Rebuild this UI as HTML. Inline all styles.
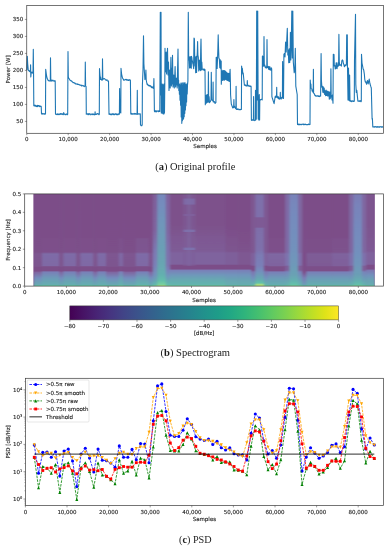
<!DOCTYPE html>
<html><head><meta charset="utf-8"><title>Figure</title>
<style>
html,body{margin:0;padding:0;background:#fff;}
body{width:388px;height:550px;overflow:hidden;}
svg{display:block;font-family:"DejaVu Sans","Liberation Sans",sans-serif;fill:#222;}
svg text{stroke:#222;stroke-width:0.12px;}
</style></head><body>
<svg width="388" height="550" viewBox="0 0 388 550">
<rect width="388" height="550" fill="#fff"/>
<path d="M26.90,70.00 L27.30,56.30 L27.70,64.00 L28.30,70.50 L28.65,70.51 L29.00,70.53 L29.35,71.45 L29.70,70.92 L30.05,71.80 L30.40,72.00 L30.60,64.70 L30.80,77.00 L31.20,72.50 L31.50,72.44 L31.80,72.14 L32.10,72.86 L32.40,72.34 L32.70,72.99 L33.00,73.20 L33.30,49.30 L33.55,73.00 L33.80,105.70 L34.11,105.08 L34.42,105.14 L34.72,105.66 L35.03,106.29 L35.34,105.26 L35.65,105.43 L35.96,106.07 L36.27,106.57 L36.58,106.04 L36.88,105.80 L37.19,106.69 L37.50,105.32 L37.81,106.56 L38.12,105.73 L38.42,105.54 L38.73,105.53 L39.04,105.84 L39.35,106.62 L39.66,105.70 L39.97,106.32 L40.28,106.43 L40.58,106.06 L40.89,106.35 L41.20,106.30 L41.50,113.90 L41.81,113.38 L42.12,113.37 L42.42,113.55 L42.73,114.12 L43.04,113.81 L43.35,113.68 L43.65,114.00 L43.96,113.84 L44.27,113.66 L44.58,114.25 L44.88,114.14 L45.19,113.59 L45.50,113.90 L45.70,69.30 L46.30,74.00 L47.00,78.00 L48.20,80.50 L48.55,80.63 L48.90,80.66 L49.25,81.04 L49.60,80.97 L49.95,80.64 L50.30,80.90 L50.50,57.80 L50.80,80.50 L51.11,81.10 L51.43,80.10 L51.74,80.49 L52.06,80.92 L52.37,80.23 L52.69,80.66 L53.00,80.15 L53.31,80.93 L53.63,81.07 L53.94,80.87 L54.26,81.26 L54.57,80.62 L54.89,81.11 L55.20,80.90 L55.50,114.20 L55.81,114.31 L56.12,114.30 L56.42,114.15 L56.73,114.61 L57.04,114.73 L57.35,114.17 L57.65,114.40 L57.96,113.67 L58.27,114.44 L58.58,114.38 L58.88,114.79 L59.19,114.59 L59.50,113.94 L59.81,114.06 L60.12,114.40 L60.42,113.63 L60.73,114.15 L61.04,113.80 L61.35,113.74 L61.65,113.67 L61.96,114.52 L62.27,113.76 L62.58,113.90 L62.88,114.07 L63.19,114.65 L63.50,114.20 L63.70,112.50 L63.90,114.20 L64.22,113.70 L64.53,114.14 L64.85,114.26 L65.17,114.66 L65.48,114.58 L65.80,114.64 L66.12,113.93 L66.43,114.10 L66.75,114.03 L67.07,114.66 L67.38,114.75 L67.70,114.20 L68.00,51.60 L68.30,76.50 L68.70,78.30 L69.03,78.46 L69.35,78.96 L69.67,79.48 L70.00,80.20 L70.31,80.19 L70.62,80.64 L70.94,80.96 L71.25,80.89 L71.56,80.88 L71.88,81.48 L72.19,81.66 L72.50,82.00 L72.82,82.22 L73.14,82.74 L73.45,82.66 L73.77,82.67 L74.09,82.92 L74.41,83.14 L74.73,82.74 L75.05,83.67 L75.36,83.72 L75.68,83.97 L76.00,83.80 L76.31,84.18 L76.62,83.93 L76.92,84.06 L77.23,83.90 L77.54,84.50 L77.85,84.10 L78.15,84.22 L78.46,84.46 L78.77,84.53 L79.08,84.81 L79.38,84.67 L79.69,84.73 L80.00,85.30 L80.32,85.05 L80.64,85.07 L80.96,85.36 L81.28,85.12 L81.59,85.95 L81.91,85.78 L82.23,85.42 L82.55,85.58 L82.87,85.73 L83.19,85.80 L83.51,85.65 L83.82,86.36 L84.14,86.56 L84.46,86.14 L84.78,86.22 L85.10,86.30 L85.30,62.00 L85.60,86.30 L86.10,86.50 L86.30,114.20 L86.61,113.71 L86.91,113.73 L87.22,114.02 L87.53,113.93 L87.84,114.61 L88.14,113.82 L88.45,113.65 L88.76,114.77 L89.06,114.27 L89.37,113.81 L89.68,114.29 L89.99,113.68 L90.29,114.28 L90.60,114.82 L90.91,114.69 L91.21,114.49 L91.52,113.97 L91.83,114.10 L92.14,113.87 L92.44,114.60 L92.75,114.31 L93.06,114.61 L93.36,114.08 L93.67,113.95 L93.98,114.66 L94.29,114.87 L94.59,114.72 L94.90,114.30 L95.10,111.80 L95.30,114.20 L95.61,114.57 L95.92,114.58 L96.22,114.49 L96.53,113.87 L96.84,114.22 L97.15,114.03 L97.45,113.63 L97.76,113.63 L98.07,113.94 L98.38,113.91 L98.68,114.43 L98.99,114.75 L99.30,114.20 L99.50,68.60 L100.30,79.50 L100.60,77.00 L101.00,79.40 L101.33,79.50 L101.65,80.09 L101.97,80.29 L102.30,80.00 L102.50,58.90 L102.80,79.00 L103.10,79.36 L103.40,78.78 L103.70,78.60 L104.00,78.80 L104.30,78.61 L104.60,78.72 L104.90,78.87 L105.20,79.51 L105.50,79.98 L105.80,80.05 L106.10,79.76 L106.40,80.10 L106.70,80.42 L107.00,79.70 L107.30,80.53 L107.60,80.97 L107.90,80.96 L108.20,81.06 L108.50,80.90 L109.00,114.20 L109.31,114.17 L109.61,113.81 L109.92,114.55 L110.22,114.00 L110.53,114.56 L110.84,114.77 L111.14,114.08 L111.45,114.08 L111.75,114.74 L112.06,114.47 L112.36,113.80 L112.67,113.75 L112.98,113.78 L113.28,114.69 L113.59,114.57 L113.89,113.78 L114.20,114.59 L114.51,114.78 L114.81,114.39 L115.12,114.02 L115.42,114.26 L115.73,113.76 L116.04,113.62 L116.34,114.77 L116.65,114.38 L116.95,114.23 L117.26,114.72 L117.56,114.12 L117.87,114.65 L118.18,114.59 L118.48,113.85 L118.79,113.90 L119.09,113.95 L119.40,114.20 L119.60,88.60 L119.90,112.00 L120.80,113.00 L121.00,68.20 L121.60,74.00 L122.50,78.00 L124.00,80.40 L125.00,79.60 L125.30,79.36 L125.60,79.76 L125.90,79.45 L126.20,79.65 L126.50,79.38 L126.80,80.23 L127.10,79.68 L127.40,79.82 L127.70,79.99 L128.00,80.36 L128.30,79.88 L128.60,80.44 L128.90,80.04 L129.20,80.10 L129.50,80.12 L129.80,79.63 L130.10,80.10 L130.40,80.20 L130.80,113.90 L131.12,113.52 L131.43,113.30 L131.75,114.26 L132.06,113.51 L132.38,113.87 L132.69,114.17 L133.00,113.97 L133.32,113.69 L133.63,113.92 L133.95,113.97 L134.27,114.24 L134.58,113.43 L134.90,113.97 L135.21,113.60 L135.53,113.63 L135.84,114.23 L136.16,113.91 L136.47,113.97 L136.78,114.21 L137.10,113.90 L137.30,90.20 L137.50,113.90 L137.81,114.39 L138.12,113.83 L138.43,114.04 L138.74,113.91 L139.06,113.91 L139.37,114.13 L139.68,113.84 L139.99,113.94 L140.30,113.90 L140.50,125.00 L140.84,124.97 L141.18,125.66 L141.52,125.30 L141.86,125.56 L142.20,125.00 L142.40,85.00 L143.00,70.00 L143.50,35.70 L143.90,64.00 L144.30,70.00 L144.90,79.40 L145.60,78.00 L145.90,70.10 L146.20,80.00 L147.00,84.00 L147.33,84.80 L147.66,84.25 L147.99,84.89 L148.31,85.62 L148.64,85.77 L148.97,85.19 L149.30,85.90 L149.61,85.48 L149.91,86.10 L150.22,85.69 L150.53,86.08 L150.84,85.97 L151.14,87.01 L151.45,87.33 L151.76,87.64 L152.06,86.67 L152.37,87.65 L152.68,87.71 L152.99,87.08 L153.29,88.33 L153.60,87.90 L153.90,78.60 L154.10,88.00 L154.40,111.00 L154.70,111.73 L155.00,110.63 L155.30,111.76 L155.60,110.96 L155.90,111.12 L156.20,111.90 L156.50,111.69 L156.80,110.71 L157.10,111.15 L157.40,111.30 L157.70,111.06 L158.00,110.88 L158.30,111.09 L158.60,111.72 L158.90,110.70 L159.20,111.53 L159.50,111.38 L159.80,111.50 L160.30,12.20 L160.65,95.00 L161.00,12.20 L161.30,113.00 L161.62,83.84 L161.94,113.10 L162.25,85.30 L162.57,113.31 L162.89,83.95 L163.21,113.88 L163.53,85.69 L163.85,113.87 L164.16,84.05 L164.48,113.02 L164.80,83.90 L165.00,48.30 L165.40,72.00 L166.20,52.00 L166.60,74.00 L167.50,48.30 L168.00,75.00 L168.50,62.00 L169.00,90.40 L169.60,70.00 L170.20,88.00 L170.90,57.40 L171.40,86.00 L171.90,68.00 L172.20,84.00 L172.50,55.30 L173.00,87.00 L173.70,75.00 L174.30,88.00 L175.10,66.60 L175.60,87.00 L176.50,78.00 L177.20,88.00 L178.00,49.00 L178.40,86.00 L178.60,80.00 L178.80,90.39 L179.10,83.72 L179.40,94.28 L179.70,84.40 L180.00,100.31 L180.30,86.19 L180.60,105.17 L180.90,83.17 L181.20,116.88 L181.50,85.07 L181.80,123.35 L182.10,82.90 L182.40,120.69 L182.70,85.60 L183.00,119.54 L183.30,82.83 L183.60,118.61 L183.90,85.35 L184.20,116.70 L184.50,82.88 L184.80,113.38 L185.10,82.80 L185.40,109.98 L185.70,84.54 L186.00,105.78 L186.30,84.99 L186.60,102.06 L186.90,83.71 L187.20,93.86 L187.50,84.87 L187.90,81.00 L188.30,12.20 L188.70,60.00 L189.13,56.95 L189.57,67.92 L190.00,56.65 L190.43,67.80 L190.87,56.81 L191.30,68.32 L191.50,56.30 L191.81,57.49 L192.13,60.62 L192.44,60.98 L192.76,63.39 L193.07,64.19 L193.39,66.47 L193.70,68.70 L193.70,60.00 L194.00,38.00 L194.20,66.00 L194.40,38.50 L194.80,62.00 L195.24,57.19 L195.68,72.65 L196.12,56.38 L196.56,72.50 L197.00,58.26 L197.30,52.00 L197.60,41.60 L197.90,55.00 L198.32,57.28 L198.73,70.86 L199.15,60.67 L199.57,69.69 L199.98,59.76 L200.40,70.60 L200.70,50.00 L201.00,39.00 L201.30,58.00 L201.50,70.00 L201.80,62.00 L202.20,69.00 L202.52,69.05 L202.85,69.83 L203.18,68.96 L203.50,69.26 L203.82,69.71 L204.15,70.39 L204.48,69.11 L204.80,69.50 L205.00,69.50 L205.30,104.80 L205.62,95.66 L205.94,103.33 L206.27,95.41 L206.59,102.85 L206.91,94.88 L207.23,102.29 L207.56,94.56 L207.88,102.31 L208.20,96.72 L208.40,71.80 L208.70,102.00 L209.10,96.51 L209.50,102.60 L209.80,101.41 L210.10,101.99 L210.40,101.47 L210.70,100.61 L211.00,99.80 L211.30,72.30 L211.60,100.00 L211.93,99.92 L212.25,100.11 L212.57,100.44 L212.90,101.00 L213.10,82.00 L213.30,102.00 L213.62,101.98 L213.95,101.41 L214.28,102.07 L214.60,101.75 L214.93,103.28 L215.25,103.37 L215.58,102.54 L215.90,102.50 L216.20,57.40 L216.67,57.33 L217.13,68.43 L217.60,56.93 L217.90,48.00 L218.20,34.90 L218.50,47.00 L218.90,58.00 L219.36,58.97 L219.82,67.70 L220.28,59.84 L220.74,68.65 L221.20,61.01 L221.30,84.20 L221.81,70.95 L222.31,80.51 L222.82,70.31 L223.32,79.93 L223.83,70.67 L224.34,80.26 L224.84,70.56 L225.35,79.35 L225.85,71.56 L226.36,79.86 L226.86,72.63 L227.37,80.57 L227.88,73.28 L228.38,80.88 L228.89,73.22 L229.39,81.41 L229.90,72.10 L230.10,69.20 L230.40,82.00 L230.60,95.00 L231.30,104.00 L232.70,107.90 L233.03,106.85 L233.37,107.80 L233.70,106.00 L233.90,99.60 L234.10,106.50 L234.40,106.20 L234.70,107.57 L235.00,107.76 L235.30,107.01 L235.60,108.77 L235.90,108.50 L236.10,86.20 L236.30,109.00 L236.62,109.50 L236.94,109.20 L237.26,109.36 L237.58,109.47 L237.89,108.69 L238.21,109.18 L238.53,109.18 L238.85,109.60 L239.17,109.59 L239.49,109.64 L239.81,109.38 L240.12,109.77 L240.44,109.54 L240.76,109.58 L241.08,109.05 L241.40,109.40 L241.60,66.10 L242.10,70.00 L242.40,68.50 L242.80,73.90 L243.20,73.00 L244.40,85.20 L244.74,84.74 L245.07,84.96 L245.41,85.33 L245.75,85.13 L246.09,86.10 L246.43,85.87 L246.76,86.05 L247.10,86.00 L247.30,80.60 L247.60,85.50 L247.92,85.74 L248.24,85.90 L248.55,85.76 L248.87,85.27 L249.19,86.31 L249.51,86.34 L249.83,86.14 L250.15,86.27 L250.46,86.51 L250.78,85.89 L251.10,86.50 L251.40,120.20 L251.73,120.41 L252.07,119.98 L252.40,119.82 L252.73,119.99 L253.07,120.41 L253.40,120.20 L253.60,96.50 L253.80,120.20 L254.10,119.93 L254.40,120.42 L254.70,120.63 L255.00,120.19 L255.30,120.20 L255.50,90.30 L255.70,120.00 L256.30,119.00 L256.70,11.00 L257.20,100.00 L257.70,11.00 L258.20,119.00 L258.50,98.20 L258.80,119.98 L259.10,96.73 L259.30,94.50 L259.60,120.00 L259.80,99.60 L260.14,99.95 L260.49,99.80 L260.83,99.86 L261.17,99.21 L261.51,99.32 L261.86,99.48 L262.20,99.80 L262.40,56.00 L262.75,56.23 L263.10,66.11 L263.45,56.70 L263.80,66.02 L264.00,36.50 L264.30,66.00 L264.61,64.67 L264.93,65.67 L265.24,67.37 L265.55,67.69 L265.86,67.88 L266.18,66.75 L266.49,67.81 L266.80,68.00 L267.00,39.60 L267.30,67.50 L267.61,67.47 L267.93,67.56 L268.24,66.41 L268.56,69.29 L268.87,66.88 L269.19,69.78 L269.50,69.72 L269.81,66.51 L270.13,68.19 L270.44,69.58 L270.76,70.21 L271.07,68.43 L271.39,67.87 L271.70,68.80 L271.90,96.50 L272.30,98.00 L274.10,103.70 L275.20,96.50 L275.52,96.10 L275.85,97.55 L276.18,96.35 L276.50,97.00 L276.70,87.20 L276.90,97.00 L277.22,97.35 L277.54,96.44 L277.86,97.51 L278.18,98.69 L278.50,96.87 L278.82,98.67 L279.14,98.07 L279.46,99.13 L279.78,98.84 L280.10,98.50 L280.30,92.40 L280.50,98.50 L280.82,97.85 L281.13,99.17 L281.45,98.22 L281.77,97.17 L282.08,97.04 L282.40,98.00 L282.60,61.50 L282.90,98.00 L283.50,98.50 L283.90,54.30 L284.40,53.50 L285.00,57.00 L285.60,42.00 L286.20,52.00 L287.30,28.20 L287.80,55.00 L288.28,49.95 L288.76,62.65 L289.24,48.81 L289.72,62.52 L290.20,49.06 L290.40,32.40 L290.80,60.00 L291.30,45.00 L291.80,11.00 L292.30,58.00 L292.80,11.00 L293.30,62.00 L294.20,72.80 L294.80,70.00 L295.30,48.30 L295.80,86.20 L297.20,94.50 L297.50,124.40 L297.80,124.26 L298.11,124.66 L298.41,124.03 L298.72,124.59 L299.02,124.65 L299.33,124.12 L299.63,124.72 L299.94,124.56 L300.24,124.70 L300.55,124.24 L300.85,124.30 L301.16,124.32 L301.46,124.77 L301.77,124.47 L302.07,124.30 L302.38,124.35 L302.68,124.23 L302.99,124.06 L303.29,124.10 L303.60,124.65 L303.90,124.24 L304.21,124.73 L304.51,124.21 L304.82,124.22 L305.12,124.41 L305.43,124.17 L305.73,124.31 L306.04,124.74 L306.34,124.69 L306.65,124.63 L306.95,124.50 L307.26,124.71 L307.56,124.73 L307.87,124.44 L308.17,124.56 L308.48,124.06 L308.78,124.57 L309.09,124.36 L309.39,124.59 L309.70,124.51 L310.00,124.40 L310.20,80.00 L310.60,86.00 L310.90,84.00 L311.10,88.30 L311.45,88.60 L311.80,88.85 L312.15,91.12 L312.50,90.36 L312.85,91.67 L313.20,92.40 L313.40,69.20 L313.60,93.00 L313.95,93.31 L314.30,93.76 L314.65,94.79 L315.00,95.57 L315.35,95.21 L315.70,96.00 L316.01,96.15 L316.31,95.85 L316.62,96.09 L316.93,95.95 L317.23,95.76 L317.54,95.77 L317.84,95.82 L318.15,96.47 L318.46,96.11 L318.76,95.87 L319.07,96.50 L319.38,96.60 L319.68,96.12 L319.99,95.85 L320.29,95.91 L320.60,96.20 L321.10,53.50 L321.40,80.00 L321.90,87.30 L322.36,86.14 L322.83,92.26 L323.29,86.88 L323.75,92.69 L324.22,88.12 L324.68,94.42 L325.14,90.74 L325.61,95.70 L326.07,90.05 L326.53,95.43 L326.99,91.13 L327.46,96.05 L327.92,91.30 L328.38,95.84 L328.85,91.86 L329.31,99.30 L329.77,92.14 L330.24,98.64 L330.70,94.39 L330.90,68.70 L331.20,97.00 L331.60,95.23 L332.00,99.93 L332.40,95.04 L332.80,100.50 L333.00,103.20 L333.30,54.30 L334.00,54.50 L334.30,66.00 L334.61,65.34 L334.91,65.64 L335.22,69.00 L335.53,68.30 L335.84,68.46 L336.14,62.84 L336.45,62.91 L336.76,67.38 L337.06,68.61 L337.37,65.82 L337.68,66.58 L337.99,62.70 L338.29,65.28 L338.60,66.00 L338.90,34.40 L339.30,62.00 L339.81,65.34 L340.31,64.73 L340.82,65.09 L341.33,66.11 L341.84,60.83 L342.34,59.92 L342.85,60.41 L343.36,63.31 L343.86,64.65 L344.37,66.74 L344.88,65.23 L345.39,64.82 L345.89,65.84 L346.40,64.00 L346.70,34.90 L347.00,60.00 L347.30,34.90 L347.50,67.20 L348.00,100.00 L348.50,68.00 L349.10,100.50 L349.60,75.00 L350.00,101.20 L350.31,101.15 L350.61,101.26 L350.92,100.65 L351.23,101.54 L351.54,100.88 L351.84,101.70 L352.15,101.37 L352.46,100.96 L352.76,100.75 L353.07,100.90 L353.38,101.36 L353.69,101.44 L353.99,100.73 L354.30,101.20 L354.50,60.00 L355.50,14.30 L355.80,84.20 L356.30,92.40 L356.80,90.40 L357.90,101.20 L358.21,100.68 L358.52,101.23 L358.83,101.30 L359.14,101.07 L359.45,100.87 L359.75,101.32 L360.06,100.61 L360.37,100.96 L360.68,101.15 L360.99,101.75 L361.30,101.20 L361.50,54.30 L362.00,63.00 L362.50,65.60 L362.80,67.19 L363.10,69.00 L363.40,69.26 L363.70,69.92 L364.00,71.80 L364.37,74.26 L364.73,79.04 L365.10,81.00 L365.40,82.13 L365.70,81.82 L366.00,81.77 L366.30,83.56 L366.60,84.20 L367.50,80.50 L368.20,84.00 L369.20,79.00 L369.90,83.50 L370.70,86.20 L371.30,88.00 L372.10,119.00 L372.40,118.50 L372.80,126.90 L373.10,127.03 L373.41,126.84 L373.71,126.72 L374.01,127.03 L374.31,127.22 L374.62,126.70 L374.92,126.55 L375.22,126.78 L375.53,126.84 L375.83,127.04 L376.13,126.67 L376.44,127.12 L376.74,127.08 L377.04,126.90 L377.34,126.68 L377.65,127.25 L377.95,126.76 L378.25,127.14 L378.56,126.70 L378.86,126.69 L379.16,127.10 L379.46,126.75 L379.77,127.24 L380.07,126.90 L380.37,126.67 L380.68,126.69 L380.98,126.84 L381.28,127.02 L381.59,127.24 L381.89,126.63 L382.19,126.82 L382.49,126.68 L382.80,127.26 L383.10,126.90" fill="none" stroke="#1f77b4" stroke-width="1.1" stroke-linejoin="round" stroke-linecap="butt"/>
<rect x="26.75" y="5.4" width="356.65" height="127.90" fill="none" stroke="#3a3a3a" stroke-width="0.7"/>
<line x1="24.85" y1="121.40" x2="26.75" y2="121.40" stroke="#3a3a3a" stroke-width="0.5"/>
<text x="23.35" y="123.25" font-size="5.5" text-anchor="end" >50</text>
<line x1="24.85" y1="104.40" x2="26.75" y2="104.40" stroke="#3a3a3a" stroke-width="0.5"/>
<text x="23.35" y="106.25" font-size="5.5" text-anchor="end" >100</text>
<line x1="24.85" y1="87.40" x2="26.75" y2="87.40" stroke="#3a3a3a" stroke-width="0.5"/>
<text x="23.35" y="89.25" font-size="5.5" text-anchor="end" >150</text>
<line x1="24.85" y1="70.40" x2="26.75" y2="70.40" stroke="#3a3a3a" stroke-width="0.5"/>
<text x="23.35" y="72.25" font-size="5.5" text-anchor="end" >200</text>
<line x1="24.85" y1="53.40" x2="26.75" y2="53.40" stroke="#3a3a3a" stroke-width="0.5"/>
<text x="23.35" y="55.25" font-size="5.5" text-anchor="end" >250</text>
<line x1="24.85" y1="36.40" x2="26.75" y2="36.40" stroke="#3a3a3a" stroke-width="0.5"/>
<text x="23.35" y="38.25" font-size="5.5" text-anchor="end" >300</text>
<line x1="24.85" y1="19.40" x2="26.75" y2="19.40" stroke="#3a3a3a" stroke-width="0.5"/>
<text x="23.35" y="21.25" font-size="5.5" text-anchor="end" >350</text>
<line x1="26.75" y1="133.3" x2="26.75" y2="135.20000000000002" stroke="#3a3a3a" stroke-width="0.5"/>
<text x="26.75" y="141.30" font-size="5.5" text-anchor="middle" >0</text>
<line x1="68.19" y1="133.3" x2="68.19" y2="135.20000000000002" stroke="#3a3a3a" stroke-width="0.5"/>
<text x="68.19" y="141.30" font-size="5.5" text-anchor="middle" >10,000</text>
<line x1="109.63" y1="133.3" x2="109.63" y2="135.20000000000002" stroke="#3a3a3a" stroke-width="0.5"/>
<text x="109.63" y="141.30" font-size="5.5" text-anchor="middle" >20,000</text>
<line x1="151.07" y1="133.3" x2="151.07" y2="135.20000000000002" stroke="#3a3a3a" stroke-width="0.5"/>
<text x="151.07" y="141.30" font-size="5.5" text-anchor="middle" >30,000</text>
<line x1="192.51" y1="133.3" x2="192.51" y2="135.20000000000002" stroke="#3a3a3a" stroke-width="0.5"/>
<text x="192.51" y="141.30" font-size="5.5" text-anchor="middle" >40,000</text>
<line x1="233.95" y1="133.3" x2="233.95" y2="135.20000000000002" stroke="#3a3a3a" stroke-width="0.5"/>
<text x="233.95" y="141.30" font-size="5.5" text-anchor="middle" >50,000</text>
<line x1="275.39" y1="133.3" x2="275.39" y2="135.20000000000002" stroke="#3a3a3a" stroke-width="0.5"/>
<text x="275.39" y="141.30" font-size="5.5" text-anchor="middle" >60,000</text>
<line x1="316.83" y1="133.3" x2="316.83" y2="135.20000000000002" stroke="#3a3a3a" stroke-width="0.5"/>
<text x="316.83" y="141.30" font-size="5.5" text-anchor="middle" >70,000</text>
<line x1="358.27" y1="133.3" x2="358.27" y2="135.20000000000002" stroke="#3a3a3a" stroke-width="0.5"/>
<text x="358.27" y="141.30" font-size="5.5" text-anchor="middle" >80,000</text>
<text x="205.07" y="148.00" font-size="5.5" text-anchor="middle" >Samples</text>
<text transform="translate(9.5,69.4) rotate(-90)" font-size="5.5" text-anchor="middle">Power [W]</text>
<defs><linearGradient id="g0" x1="0" y1="0" x2="0" y2="1"><stop offset="0.0000" stop-color="#7c4d88"/><stop offset="0.6302" stop-color="#7c4f89"/><stop offset="0.6518" stop-color="#7e5691"/><stop offset="0.7820" stop-color="#7d558f"/><stop offset="0.7983" stop-color="#7c4d88"/><stop offset="0.8341" stop-color="#7c4d88"/><stop offset="0.8525" stop-color="#7f67a2"/><stop offset="0.9121" stop-color="#748dbd"/><stop offset="0.9826" stop-color="#67a8b2"/><stop offset="0.9913" stop-color="#64c2a9"/><stop offset="1.0000" stop-color="#64c2a9"/></linearGradient><linearGradient id="g1" x1="0" y1="0" x2="0" y2="1"><stop offset="0.0000" stop-color="#7c4d88"/><stop offset="0.4675" stop-color="#7c4d88"/><stop offset="0.4892" stop-color="#7d508a"/><stop offset="0.6302" stop-color="#7d508b"/><stop offset="0.6518" stop-color="#7e6ca7"/><stop offset="0.7766" stop-color="#7f69a5"/><stop offset="0.7907" stop-color="#7c4f89"/><stop offset="0.8319" stop-color="#7c4f89"/><stop offset="0.8471" stop-color="#7a80b8"/><stop offset="0.9121" stop-color="#6d9bb8"/><stop offset="0.9826" stop-color="#65adb0"/><stop offset="0.9913" stop-color="#68c5a7"/><stop offset="1.0000" stop-color="#68c5a7"/></linearGradient><linearGradient id="g2" x1="0" y1="0" x2="0" y2="1"><stop offset="0.0000" stop-color="#7c4d88"/><stop offset="0.4675" stop-color="#7c4d88"/><stop offset="0.4892" stop-color="#7d518c"/><stop offset="0.6302" stop-color="#7d528d"/><stop offset="0.6518" stop-color="#7f69a5"/><stop offset="0.7766" stop-color="#7f67a2"/><stop offset="0.7907" stop-color="#7c4f89"/><stop offset="0.8319" stop-color="#7c4f89"/><stop offset="0.8471" stop-color="#7a80b8"/><stop offset="0.9121" stop-color="#6c9db6"/><stop offset="0.9826" stop-color="#64b2af"/><stop offset="0.9913" stop-color="#70cca2"/><stop offset="1.0000" stop-color="#70cca2"/></linearGradient><linearGradient id="g3" x1="0" y1="0" x2="0" y2="1"><stop offset="0.0000" stop-color="#7c4d88"/><stop offset="0.4675" stop-color="#7c4d88"/><stop offset="0.4892" stop-color="#7d548f"/><stop offset="0.6302" stop-color="#7e5691"/><stop offset="0.6518" stop-color="#7e6ca7"/><stop offset="0.7766" stop-color="#7f69a5"/><stop offset="0.7907" stop-color="#7c4f89"/><stop offset="0.8319" stop-color="#7c4f89"/><stop offset="0.8471" stop-color="#7a80b8"/><stop offset="0.9121" stop-color="#6c9db6"/><stop offset="0.9826" stop-color="#64b2af"/><stop offset="0.9913" stop-color="#70cca2"/><stop offset="1.0000" stop-color="#70cca2"/></linearGradient><linearGradient id="g4" x1="0" y1="0" x2="0" y2="1"><stop offset="0.0000" stop-color="#7e5f9a"/><stop offset="0.3915" stop-color="#7f649f"/><stop offset="0.6085" stop-color="#7c78b2"/><stop offset="0.7711" stop-color="#7a80b8"/><stop offset="0.8796" stop-color="#7292bc"/><stop offset="0.9447" stop-color="#69a5b3"/><stop offset="0.9837" stop-color="#62baac"/><stop offset="0.9913" stop-color="#76cf9e"/><stop offset="1.0000" stop-color="#76cf9e"/></linearGradient><linearGradient id="g5" x1="0" y1="0" x2="0" y2="1"><stop offset="0.0000" stop-color="#7788bc"/><stop offset="0.1204" stop-color="#748dbd"/><stop offset="0.3373" stop-color="#6f97ba"/><stop offset="0.6085" stop-color="#6ba0b5"/><stop offset="0.7711" stop-color="#68a6b2"/><stop offset="0.8796" stop-color="#64b0af"/><stop offset="0.9447" stop-color="#64c0aa"/><stop offset="0.9837" stop-color="#79d19d"/><stop offset="0.9913" stop-color="#a2df85"/><stop offset="1.0000" stop-color="#a2df85"/></linearGradient><linearGradient id="g6" x1="0" y1="0" x2="0" y2="1"><stop offset="0.0000" stop-color="#7f649f"/><stop offset="0.3915" stop-color="#7f67a2"/><stop offset="0.6085" stop-color="#7e71ac"/><stop offset="0.7711" stop-color="#7e73ae"/><stop offset="0.8254" stop-color="#7a80b8"/><stop offset="0.8905" stop-color="#7096bb"/><stop offset="0.9447" stop-color="#66a9b1"/><stop offset="0.9837" stop-color="#62baac"/><stop offset="0.9913" stop-color="#76cf9e"/><stop offset="1.0000" stop-color="#76cf9e"/></linearGradient><linearGradient id="g7" x1="0" y1="0" x2="0" y2="1"><stop offset="0.0000" stop-color="#7d518b"/><stop offset="0.3373" stop-color="#7d518b"/><stop offset="0.4892" stop-color="#7e5993"/><stop offset="0.6193" stop-color="#7e5b96"/><stop offset="0.6410" stop-color="#7f639e"/><stop offset="0.7625" stop-color="#7f639e"/><stop offset="0.7733" stop-color="#7c4d88"/><stop offset="0.8145" stop-color="#7c4d88"/><stop offset="0.8275" stop-color="#7a80b8"/><stop offset="0.8796" stop-color="#6f98ba"/><stop offset="0.9338" stop-color="#66aab1"/><stop offset="0.9826" stop-color="#63b5ae"/><stop offset="0.9913" stop-color="#6dcba3"/><stop offset="1.0000" stop-color="#6dcba3"/></linearGradient><linearGradient id="g8" x1="0" y1="0" x2="0" y2="1"><stop offset="0.0000" stop-color="#7c4d88"/><stop offset="0.3373" stop-color="#7c4d88"/><stop offset="0.4892" stop-color="#7d528d"/><stop offset="0.6193" stop-color="#7d558f"/><stop offset="0.6410" stop-color="#7e5f9a"/><stop offset="0.7625" stop-color="#7e5f9a"/><stop offset="0.7733" stop-color="#7c4d88"/><stop offset="0.8145" stop-color="#7c4d88"/><stop offset="0.8275" stop-color="#7a80b8"/><stop offset="0.8796" stop-color="#7095bb"/><stop offset="0.9338" stop-color="#69a4b3"/><stop offset="0.9826" stop-color="#65adb0"/><stop offset="0.9913" stop-color="#68c5a7"/><stop offset="1.0000" stop-color="#68c5a7"/></linearGradient><linearGradient id="g9" x1="0" y1="0" x2="0" y2="1"><stop offset="0.0000" stop-color="#7c4d88"/><stop offset="0.3373" stop-color="#7c4d88"/><stop offset="0.4892" stop-color="#7d508a"/><stop offset="0.6193" stop-color="#7d528d"/><stop offset="0.6410" stop-color="#7e5892"/><stop offset="0.7625" stop-color="#7e5892"/><stop offset="0.7733" stop-color="#7c4d88"/><stop offset="0.8145" stop-color="#7c4d88"/><stop offset="0.8275" stop-color="#7a80b8"/><stop offset="0.8796" stop-color="#7095bb"/><stop offset="0.9338" stop-color="#69a4b3"/><stop offset="0.9826" stop-color="#65adb0"/><stop offset="0.9913" stop-color="#68c5a7"/><stop offset="1.0000" stop-color="#68c5a7"/></linearGradient><linearGradient id="g10" x1="0" y1="0" x2="0" y2="1"><stop offset="0.0000" stop-color="#7e5892"/><stop offset="0.6302" stop-color="#7e5892"/><stop offset="0.6518" stop-color="#7f629d"/><stop offset="0.7711" stop-color="#7f629d"/><stop offset="0.7874" stop-color="#7c4d88"/><stop offset="0.8254" stop-color="#7c4d88"/><stop offset="0.8471" stop-color="#7d76b0"/><stop offset="0.9121" stop-color="#7291bd"/><stop offset="0.9826" stop-color="#64b2af"/><stop offset="0.9913" stop-color="#6dcba3"/><stop offset="1.0000" stop-color="#6dcba3"/></linearGradient><linearGradient id="g11" x1="0" y1="0" x2="0" y2="1"><stop offset="0.0000" stop-color="#7f67a2"/><stop offset="0.0228" stop-color="#7e6fab"/><stop offset="0.2451" stop-color="#7e6fab"/><stop offset="0.2614" stop-color="#7e5a95"/><stop offset="0.3590" stop-color="#7e5a95"/><stop offset="0.3753" stop-color="#7e6ea9"/><stop offset="0.6085" stop-color="#7e71ac"/><stop offset="0.6627" stop-color="#7b7bb4"/><stop offset="0.7820" stop-color="#7a80b8"/><stop offset="0.8471" stop-color="#7292bc"/><stop offset="0.9230" stop-color="#66a9b1"/><stop offset="0.9664" stop-color="#64c2a9"/><stop offset="0.9881" stop-color="#b9e477"/><stop offset="1.0000" stop-color="#b9e477"/></linearGradient><linearGradient id="g12" x1="0" y1="0" x2="0" y2="1"><stop offset="0.0000" stop-color="#7e5993"/><stop offset="0.6302" stop-color="#7e5993"/><stop offset="0.6518" stop-color="#7f639e"/><stop offset="0.7711" stop-color="#7f639e"/><stop offset="0.7874" stop-color="#7c4f89"/><stop offset="0.8254" stop-color="#7c4f89"/><stop offset="0.8471" stop-color="#7c77b1"/><stop offset="0.9121" stop-color="#7292bc"/><stop offset="0.9826" stop-color="#64b2af"/><stop offset="0.9913" stop-color="#6dcba3"/><stop offset="1.0000" stop-color="#6dcba3"/></linearGradient><linearGradient id="g13" x1="0" y1="0" x2="0" y2="1"><stop offset="0.0000" stop-color="#7c4d88"/><stop offset="0.4675" stop-color="#7c4d88"/><stop offset="0.4892" stop-color="#7d508a"/><stop offset="0.6302" stop-color="#7d508b"/><stop offset="0.6518" stop-color="#7f67a2"/><stop offset="0.7766" stop-color="#7f649f"/><stop offset="0.7907" stop-color="#7c4f89"/><stop offset="0.8319" stop-color="#7c4f89"/><stop offset="0.8471" stop-color="#7a80b8"/><stop offset="0.9121" stop-color="#6d9bb8"/><stop offset="0.9826" stop-color="#65adb0"/><stop offset="0.9913" stop-color="#68c5a7"/><stop offset="1.0000" stop-color="#68c5a7"/></linearGradient><linearGradient id="g14" x1="0" y1="0" x2="0" y2="1"><stop offset="0.0000" stop-color="#7f69a5"/><stop offset="0.6302" stop-color="#7f69a5"/><stop offset="0.6518" stop-color="#7e73ae"/><stop offset="0.7711" stop-color="#7e73ae"/><stop offset="0.7874" stop-color="#7e5f9a"/><stop offset="0.8254" stop-color="#7e5f9a"/><stop offset="0.8471" stop-color="#7786bb"/><stop offset="0.9121" stop-color="#6d9cb7"/><stop offset="0.9826" stop-color="#64b2af"/><stop offset="0.9913" stop-color="#6dcba3"/><stop offset="1.0000" stop-color="#6dcba3"/></linearGradient><linearGradient id="g15" x1="0" y1="0" x2="0" y2="1"><stop offset="0.0000" stop-color="#7982b9"/><stop offset="0.1204" stop-color="#7788bc"/><stop offset="0.3373" stop-color="#748dbd"/><stop offset="0.6085" stop-color="#7292bc"/><stop offset="0.7711" stop-color="#6e99b9"/><stop offset="0.8796" stop-color="#6aa2b4"/><stop offset="0.9447" stop-color="#64b2af"/><stop offset="0.9837" stop-color="#64c2a9"/><stop offset="0.9913" stop-color="#76cf9e"/><stop offset="1.0000" stop-color="#76cf9e"/></linearGradient><linearGradient id="g16" x1="0" y1="0" x2="0" y2="1"><stop offset="0.0000" stop-color="#7f67a2"/><stop offset="0.6302" stop-color="#7f67a2"/><stop offset="0.6518" stop-color="#7e71ac"/><stop offset="0.7711" stop-color="#7e71ac"/><stop offset="0.7874" stop-color="#7e5d97"/><stop offset="0.8254" stop-color="#7e5d97"/><stop offset="0.8471" stop-color="#7884ba"/><stop offset="0.9121" stop-color="#6d9ab8"/><stop offset="0.9826" stop-color="#64b2af"/><stop offset="0.9913" stop-color="#6dcba3"/><stop offset="1.0000" stop-color="#6dcba3"/></linearGradient><linearGradient id="g17" x1="0" y1="0" x2="0" y2="1"><stop offset="0.0000" stop-color="#7c4d88"/><stop offset="0.6302" stop-color="#7c4f89"/><stop offset="0.6518" stop-color="#7c4d88"/><stop offset="0.7820" stop-color="#7c4d88"/><stop offset="0.7983" stop-color="#7c4d88"/><stop offset="0.8341" stop-color="#7c4d88"/><stop offset="0.8525" stop-color="#7d528d"/><stop offset="0.9121" stop-color="#7b7db6"/><stop offset="0.9826" stop-color="#6d9cb7"/><stop offset="0.9913" stop-color="#63bfaa"/><stop offset="1.0000" stop-color="#63bfaa"/></linearGradient><linearGradient id="g18" x1="0" y1="0" x2="0" y2="1"><stop offset="0.0000" stop-color="#7c4d88"/><stop offset="0.4675" stop-color="#7c4d88"/><stop offset="0.4892" stop-color="#7c4f89"/><stop offset="0.6302" stop-color="#7c4f8a"/><stop offset="0.6518" stop-color="#7e5d97"/><stop offset="0.7766" stop-color="#7e5a95"/><stop offset="0.7907" stop-color="#7c4f89"/><stop offset="0.8319" stop-color="#7c4f89"/><stop offset="0.8471" stop-color="#7a80b8"/><stop offset="0.9121" stop-color="#6d9bb8"/><stop offset="0.9826" stop-color="#65adb0"/><stop offset="0.9913" stop-color="#68c5a7"/><stop offset="1.0000" stop-color="#68c5a7"/></linearGradient><linearGradient id="g19" x1="0" y1="0" x2="0" y2="1"><stop offset="0.0000" stop-color="#7c4d88"/><stop offset="0.4675" stop-color="#7c4d88"/><stop offset="0.4892" stop-color="#7d518c"/><stop offset="0.6302" stop-color="#7d528d"/><stop offset="0.6518" stop-color="#7f639e"/><stop offset="0.7766" stop-color="#7f609b"/><stop offset="0.7907" stop-color="#7c4f89"/><stop offset="0.8319" stop-color="#7c4f89"/><stop offset="0.8471" stop-color="#7a80b8"/><stop offset="0.9121" stop-color="#6d9bb8"/><stop offset="0.9826" stop-color="#65adb0"/><stop offset="0.9913" stop-color="#68c5a7"/><stop offset="1.0000" stop-color="#68c5a7"/></linearGradient><linearGradient id="g20" x1="0" y1="0" x2="0" y2="1"><stop offset="0.0000" stop-color="#7b7cb5"/><stop offset="0.1204" stop-color="#7983ba"/><stop offset="0.3373" stop-color="#7689bd"/><stop offset="0.6085" stop-color="#738fbd"/><stop offset="0.7711" stop-color="#7096bb"/><stop offset="0.8796" stop-color="#6b9fb5"/><stop offset="0.9447" stop-color="#65afb0"/><stop offset="0.9837" stop-color="#63bfaa"/><stop offset="0.9913" stop-color="#76cf9e"/><stop offset="1.0000" stop-color="#76cf9e"/></linearGradient><linearGradient id="g21" x1="0" y1="0" x2="0" y2="1"><stop offset="0.0000" stop-color="#7d558f"/><stop offset="0.3373" stop-color="#7d558f"/><stop offset="0.4892" stop-color="#7e5892"/><stop offset="0.6193" stop-color="#7e5a95"/><stop offset="0.6410" stop-color="#7f629d"/><stop offset="0.7625" stop-color="#7f629d"/><stop offset="0.7733" stop-color="#7c4d88"/><stop offset="0.8145" stop-color="#7c4d88"/><stop offset="0.8275" stop-color="#7c78b2"/><stop offset="0.8796" stop-color="#7291bc"/><stop offset="0.9338" stop-color="#6aa2b4"/><stop offset="0.9826" stop-color="#66abb1"/><stop offset="0.9913" stop-color="#68c5a7"/><stop offset="1.0000" stop-color="#68c5a7"/></linearGradient><clipPath id="spclip"><rect x="33.5" y="193.9" width="341.20" height="92.20"/></clipPath><filter id="spblur" x="-5%" y="-5%" width="110%" height="110%"><feGaussianBlur stdDeviation="0.9 0.5"/></filter></defs>
<g clip-path="url(#spclip)"><rect x="30.5" y="190.9" width="347.20" height="98.20" fill="#7c4d88"/><g filter="url(#spblur)"><rect x="33.50" y="193.9" width="9.03" height="92.20" fill="url(#g0)"/><rect x="42.03" y="193.9" width="17.56" height="92.20" fill="url(#g1)"/><rect x="59.09" y="193.9" width="4.77" height="92.20" fill="url(#g0)"/><rect x="63.35" y="193.9" width="13.29" height="92.20" fill="url(#g1)"/><rect x="76.15" y="193.9" width="4.77" height="92.20" fill="url(#g0)"/><rect x="80.41" y="193.9" width="13.30" height="92.20" fill="url(#g1)"/><rect x="93.21" y="193.9" width="4.77" height="92.20" fill="url(#g0)"/><rect x="97.47" y="193.9" width="9.03" height="92.20" fill="url(#g1)"/><rect x="106.00" y="193.9" width="13.30" height="92.20" fill="url(#g0)"/><rect x="118.80" y="193.9" width="4.77" height="92.20" fill="url(#g2)"/><rect x="123.06" y="193.9" width="13.29" height="92.20" fill="url(#g0)"/><rect x="135.86" y="193.9" width="13.29" height="92.20" fill="url(#g3)"/><rect x="148.65" y="193.9" width="4.76" height="92.20" fill="url(#g0)"/><rect x="152.92" y="193.9" width="4.76" height="92.20" fill="url(#g4)"/><rect x="157.19" y="193.9" width="9.03" height="92.20" fill="url(#g5)"/><rect x="165.72" y="193.9" width="4.76" height="92.20" fill="url(#g6)"/><rect x="169.98" y="193.9" width="55.94" height="92.20" fill="url(#g7)"/><rect x="225.42" y="193.9" width="13.29" height="92.20" fill="url(#g8)"/><rect x="238.22" y="193.9" width="13.29" height="92.20" fill="url(#g9)"/><rect x="251.01" y="193.9" width="4.76" height="92.20" fill="url(#g10)"/><rect x="255.28" y="193.9" width="9.03" height="92.20" fill="url(#g11)"/><rect x="263.81" y="193.9" width="4.76" height="92.20" fill="url(#g12)"/><rect x="268.07" y="193.9" width="17.56" height="92.20" fill="url(#g13)"/><rect x="285.13" y="193.9" width="4.76" height="92.20" fill="url(#g14)"/><rect x="289.40" y="193.9" width="9.03" height="92.20" fill="url(#g15)"/><rect x="297.93" y="193.9" width="4.76" height="92.20" fill="url(#g16)"/><rect x="302.19" y="193.9" width="4.76" height="92.20" fill="url(#g17)"/><rect x="306.46" y="193.9" width="26.09" height="92.20" fill="url(#g18)"/><rect x="332.05" y="193.9" width="17.56" height="92.20" fill="url(#g19)"/><rect x="349.11" y="193.9" width="4.76" height="92.20" fill="url(#g16)"/><rect x="353.38" y="193.9" width="9.03" height="92.20" fill="url(#g20)"/><rect x="361.90" y="193.9" width="4.76" height="92.20" fill="url(#g16)"/><rect x="366.17" y="193.9" width="9.03" height="92.20" fill="url(#g21)"/><rect x="182.8" y="193.9" width="12.8" height="72" fill="#7e5f9a" opacity="0.45"/><rect x="187.0" y="193.9" width="4.3" height="72" fill="#7f67a2" opacity="0.5"/><rect x="183.5" y="198.5" width="11.5" height="6.1" fill="#7e6ea9" opacity="0.85"/><rect x="183.5" y="229.6" width="11.5" height="2.4" fill="#7e73ae" opacity="0.85"/><rect x="183.5" y="247.6" width="11.5" height="2.4" fill="#7d76b0" opacity="0.85"/><rect x="183.5" y="214" width="11.5" height="2.0" fill="#7f629d" opacity="0.85"/></g></g>
<rect x="24.7" y="193.9" width="358.70" height="92.20" fill="none" stroke="#3a3a3a" stroke-width="0.7"/>
<line x1="22.8" y1="286.10" x2="24.7" y2="286.10" stroke="#3a3a3a" stroke-width="0.5"/>
<text x="21.30" y="287.95" font-size="5.5" text-anchor="end" >0.0</text>
<line x1="22.8" y1="267.66" x2="24.7" y2="267.66" stroke="#3a3a3a" stroke-width="0.5"/>
<text x="21.30" y="269.51" font-size="5.5" text-anchor="end" >0.1</text>
<line x1="22.8" y1="249.22" x2="24.7" y2="249.22" stroke="#3a3a3a" stroke-width="0.5"/>
<text x="21.30" y="251.07" font-size="5.5" text-anchor="end" >0.2</text>
<line x1="22.8" y1="230.78" x2="24.7" y2="230.78" stroke="#3a3a3a" stroke-width="0.5"/>
<text x="21.30" y="232.63" font-size="5.5" text-anchor="end" >0.3</text>
<line x1="22.8" y1="212.34" x2="24.7" y2="212.34" stroke="#3a3a3a" stroke-width="0.5"/>
<text x="21.30" y="214.19" font-size="5.5" text-anchor="end" >0.4</text>
<line x1="22.8" y1="193.90" x2="24.7" y2="193.90" stroke="#3a3a3a" stroke-width="0.5"/>
<text x="21.30" y="195.75" font-size="5.5" text-anchor="end" >0.5</text>
<line x1="24.70" y1="286.1" x2="24.70" y2="288.0" stroke="#3a3a3a" stroke-width="0.5"/>
<text x="24.70" y="294.10" font-size="5.5" text-anchor="middle" >0</text>
<line x1="66.40" y1="286.1" x2="66.40" y2="288.0" stroke="#3a3a3a" stroke-width="0.5"/>
<text x="66.40" y="294.10" font-size="5.5" text-anchor="middle" >10,000</text>
<line x1="108.10" y1="286.1" x2="108.10" y2="288.0" stroke="#3a3a3a" stroke-width="0.5"/>
<text x="108.10" y="294.10" font-size="5.5" text-anchor="middle" >20,000</text>
<line x1="149.80" y1="286.1" x2="149.80" y2="288.0" stroke="#3a3a3a" stroke-width="0.5"/>
<text x="149.80" y="294.10" font-size="5.5" text-anchor="middle" >30,000</text>
<line x1="191.50" y1="286.1" x2="191.50" y2="288.0" stroke="#3a3a3a" stroke-width="0.5"/>
<text x="191.50" y="294.10" font-size="5.5" text-anchor="middle" >40,000</text>
<line x1="233.20" y1="286.1" x2="233.20" y2="288.0" stroke="#3a3a3a" stroke-width="0.5"/>
<text x="233.20" y="294.10" font-size="5.5" text-anchor="middle" >50,000</text>
<line x1="274.90" y1="286.1" x2="274.90" y2="288.0" stroke="#3a3a3a" stroke-width="0.5"/>
<text x="274.90" y="294.10" font-size="5.5" text-anchor="middle" >60,000</text>
<line x1="316.60" y1="286.1" x2="316.60" y2="288.0" stroke="#3a3a3a" stroke-width="0.5"/>
<text x="316.60" y="294.10" font-size="5.5" text-anchor="middle" >70,000</text>
<line x1="358.30" y1="286.1" x2="358.30" y2="288.0" stroke="#3a3a3a" stroke-width="0.5"/>
<text x="358.30" y="294.10" font-size="5.5" text-anchor="middle" >80,000</text>
<text x="204.05" y="301.70" font-size="5.5" text-anchor="middle" >Samples</text>
<text transform="translate(9.7,240.0) rotate(-90)" font-size="5.5" text-anchor="middle">Frequency [Hz]</text>
<defs><linearGradient id="cbg" x1="0" y1="0" x2="1" y2="0"><stop offset="0.00" stop-color="#440154"/><stop offset="0.05" stop-color="#471365"/><stop offset="0.10" stop-color="#482475"/><stop offset="0.15" stop-color="#463480"/><stop offset="0.20" stop-color="#414487"/><stop offset="0.25" stop-color="#3b528b"/><stop offset="0.30" stop-color="#355f8d"/><stop offset="0.35" stop-color="#2f6c8e"/><stop offset="0.40" stop-color="#2a788e"/><stop offset="0.45" stop-color="#25848e"/><stop offset="0.50" stop-color="#21918c"/><stop offset="0.55" stop-color="#1e9c89"/><stop offset="0.60" stop-color="#22a884"/><stop offset="0.65" stop-color="#2fb47c"/><stop offset="0.70" stop-color="#44bf70"/><stop offset="0.75" stop-color="#5ec962"/><stop offset="0.80" stop-color="#7ad151"/><stop offset="0.85" stop-color="#9bd93c"/><stop offset="0.90" stop-color="#bddf26"/><stop offset="0.95" stop-color="#dfe318"/><stop offset="1.00" stop-color="#fde725"/></linearGradient></defs>
<rect x="69.8" y="305.9" width="268.80" height="14.00" fill="url(#cbg)" stroke="#3a3a3a" stroke-width="0.5"/>
<line x1="69.80" y1="319.9" x2="69.80" y2="321.79999999999995" stroke="#3a3a3a" stroke-width="0.5"/>
<text x="69.80" y="327.60" font-size="5.5" text-anchor="middle" >−80</text>
<line x1="103.40" y1="319.9" x2="103.40" y2="321.79999999999995" stroke="#3a3a3a" stroke-width="0.5"/>
<text x="103.40" y="327.60" font-size="5.5" text-anchor="middle" >−70</text>
<line x1="137.00" y1="319.9" x2="137.00" y2="321.79999999999995" stroke="#3a3a3a" stroke-width="0.5"/>
<text x="137.00" y="327.60" font-size="5.5" text-anchor="middle" >−60</text>
<line x1="170.60" y1="319.9" x2="170.60" y2="321.79999999999995" stroke="#3a3a3a" stroke-width="0.5"/>
<text x="170.60" y="327.60" font-size="5.5" text-anchor="middle" >−50</text>
<line x1="204.20" y1="319.9" x2="204.20" y2="321.79999999999995" stroke="#3a3a3a" stroke-width="0.5"/>
<text x="204.20" y="327.60" font-size="5.5" text-anchor="middle" >−40</text>
<line x1="237.80" y1="319.9" x2="237.80" y2="321.79999999999995" stroke="#3a3a3a" stroke-width="0.5"/>
<text x="237.80" y="327.60" font-size="5.5" text-anchor="middle" >−30</text>
<line x1="271.40" y1="319.9" x2="271.40" y2="321.79999999999995" stroke="#3a3a3a" stroke-width="0.5"/>
<text x="271.40" y="327.60" font-size="5.5" text-anchor="middle" >−20</text>
<line x1="305.00" y1="319.9" x2="305.00" y2="321.79999999999995" stroke="#3a3a3a" stroke-width="0.5"/>
<text x="305.00" y="327.60" font-size="5.5" text-anchor="middle" >−10</text>
<line x1="338.60" y1="319.9" x2="338.60" y2="321.79999999999995" stroke="#3a3a3a" stroke-width="0.5"/>
<text x="338.60" y="327.60" font-size="5.5" text-anchor="middle" >0</text>
<text x="204.20" y="335.00" font-size="5.5" text-anchor="middle" >[dB/Hz]</text>
<clipPath id="cclip"><rect x="25.4" y="378.3" width="358.00" height="127.20"/></clipPath>
<g clip-path="url(#cclip)"><path d="M34.30,445.10 L38.55,473.20 L42.80,452.30 L47.05,452.00 L51.30,457.30 L55.55,451.70 L59.80,476.10 L64.05,451.10 L68.30,449.00 L72.55,461.00 L76.80,486.60 L81.05,454.00 L85.30,448.20 L89.55,458.10 L93.80,472.00 L98.05,449.00 L102.30,460.20 L106.55,460.80 L110.80,463.00 L115.05,467.20 L119.30,445.90 L123.55,457.30 L127.80,457.30 L132.05,449.40 L136.30,459.80 L140.55,443.60 L144.80,444.10 L149.05,462.70 L153.30,420.80 L157.55,385.90 L161.80,383.90 L166.05,411.50 L170.30,435.30 L174.55,436.50 L178.80,436.50 L183.05,430.20 L187.30,418.70 L191.55,424.50 L195.80,436.70 L200.05,439.10 L204.30,440.50 L208.55,439.10 L212.80,444.50 L217.05,441.20 L221.30,447.80 L225.55,450.00 L229.80,447.90 L234.05,453.70 L238.30,454.90 L242.55,454.90 L246.80,459.90 L251.05,433.30 L255.30,414.00 L259.55,418.10 L263.80,440.80 L268.05,454.00 L272.30,450.50 L276.55,458.20 L280.80,445.00 L285.05,417.40 L289.30,388.20 L293.55,388.80 L297.80,420.20 L302.05,471.10 L306.30,457.10 L310.55,447.80 L314.80,453.10 L319.05,458.30 L323.30,456.00 L327.55,452.50 L331.80,445.30 L336.05,443.90 L340.30,452.60 L344.55,446.80 L348.80,415.00 L353.05,389.40 L357.30,393.40 L361.55,428.90 L365.80,449.00 L370.05,438.00 L374.30,445.00" fill="none" stroke="#0000ff" stroke-width="0.8" stroke-dasharray="2.6,1.1"/><circle cx="34.30" cy="445.10" r="1.55" fill="#0000ff"/><circle cx="38.55" cy="473.20" r="1.55" fill="#0000ff"/><circle cx="42.80" cy="452.30" r="1.55" fill="#0000ff"/><circle cx="47.05" cy="452.00" r="1.55" fill="#0000ff"/><circle cx="51.30" cy="457.30" r="1.55" fill="#0000ff"/><circle cx="55.55" cy="451.70" r="1.55" fill="#0000ff"/><circle cx="59.80" cy="476.10" r="1.55" fill="#0000ff"/><circle cx="64.05" cy="451.10" r="1.55" fill="#0000ff"/><circle cx="68.30" cy="449.00" r="1.55" fill="#0000ff"/><circle cx="72.55" cy="461.00" r="1.55" fill="#0000ff"/><circle cx="76.80" cy="486.60" r="1.55" fill="#0000ff"/><circle cx="81.05" cy="454.00" r="1.55" fill="#0000ff"/><circle cx="85.30" cy="448.20" r="1.55" fill="#0000ff"/><circle cx="89.55" cy="458.10" r="1.55" fill="#0000ff"/><circle cx="93.80" cy="472.00" r="1.55" fill="#0000ff"/><circle cx="98.05" cy="449.00" r="1.55" fill="#0000ff"/><circle cx="102.30" cy="460.20" r="1.55" fill="#0000ff"/><circle cx="106.55" cy="460.80" r="1.55" fill="#0000ff"/><circle cx="110.80" cy="463.00" r="1.55" fill="#0000ff"/><circle cx="115.05" cy="467.20" r="1.55" fill="#0000ff"/><circle cx="119.30" cy="445.90" r="1.55" fill="#0000ff"/><circle cx="123.55" cy="457.30" r="1.55" fill="#0000ff"/><circle cx="127.80" cy="457.30" r="1.55" fill="#0000ff"/><circle cx="132.05" cy="449.40" r="1.55" fill="#0000ff"/><circle cx="136.30" cy="459.80" r="1.55" fill="#0000ff"/><circle cx="140.55" cy="443.60" r="1.55" fill="#0000ff"/><circle cx="144.80" cy="444.10" r="1.55" fill="#0000ff"/><circle cx="149.05" cy="462.70" r="1.55" fill="#0000ff"/><circle cx="153.30" cy="420.80" r="1.55" fill="#0000ff"/><circle cx="157.55" cy="385.90" r="1.55" fill="#0000ff"/><circle cx="161.80" cy="383.90" r="1.55" fill="#0000ff"/><circle cx="166.05" cy="411.50" r="1.55" fill="#0000ff"/><circle cx="170.30" cy="435.30" r="1.55" fill="#0000ff"/><circle cx="174.55" cy="436.50" r="1.55" fill="#0000ff"/><circle cx="178.80" cy="436.50" r="1.55" fill="#0000ff"/><circle cx="183.05" cy="430.20" r="1.55" fill="#0000ff"/><circle cx="187.30" cy="418.70" r="1.55" fill="#0000ff"/><circle cx="191.55" cy="424.50" r="1.55" fill="#0000ff"/><circle cx="195.80" cy="436.70" r="1.55" fill="#0000ff"/><circle cx="200.05" cy="439.10" r="1.55" fill="#0000ff"/><circle cx="204.30" cy="440.50" r="1.55" fill="#0000ff"/><circle cx="208.55" cy="439.10" r="1.55" fill="#0000ff"/><circle cx="212.80" cy="444.50" r="1.55" fill="#0000ff"/><circle cx="217.05" cy="441.20" r="1.55" fill="#0000ff"/><circle cx="221.30" cy="447.80" r="1.55" fill="#0000ff"/><circle cx="225.55" cy="450.00" r="1.55" fill="#0000ff"/><circle cx="229.80" cy="447.90" r="1.55" fill="#0000ff"/><circle cx="234.05" cy="453.70" r="1.55" fill="#0000ff"/><circle cx="238.30" cy="454.90" r="1.55" fill="#0000ff"/><circle cx="242.55" cy="454.90" r="1.55" fill="#0000ff"/><circle cx="246.80" cy="459.90" r="1.55" fill="#0000ff"/><circle cx="251.05" cy="433.30" r="1.55" fill="#0000ff"/><circle cx="255.30" cy="414.00" r="1.55" fill="#0000ff"/><circle cx="259.55" cy="418.10" r="1.55" fill="#0000ff"/><circle cx="263.80" cy="440.80" r="1.55" fill="#0000ff"/><circle cx="268.05" cy="454.00" r="1.55" fill="#0000ff"/><circle cx="272.30" cy="450.50" r="1.55" fill="#0000ff"/><circle cx="276.55" cy="458.20" r="1.55" fill="#0000ff"/><circle cx="280.80" cy="445.00" r="1.55" fill="#0000ff"/><circle cx="285.05" cy="417.40" r="1.55" fill="#0000ff"/><circle cx="289.30" cy="388.20" r="1.55" fill="#0000ff"/><circle cx="293.55" cy="388.80" r="1.55" fill="#0000ff"/><circle cx="297.80" cy="420.20" r="1.55" fill="#0000ff"/><circle cx="302.05" cy="471.10" r="1.55" fill="#0000ff"/><circle cx="306.30" cy="457.10" r="1.55" fill="#0000ff"/><circle cx="310.55" cy="447.80" r="1.55" fill="#0000ff"/><circle cx="314.80" cy="453.10" r="1.55" fill="#0000ff"/><circle cx="319.05" cy="458.30" r="1.55" fill="#0000ff"/><circle cx="323.30" cy="456.00" r="1.55" fill="#0000ff"/><circle cx="327.55" cy="452.50" r="1.55" fill="#0000ff"/><circle cx="331.80" cy="445.30" r="1.55" fill="#0000ff"/><circle cx="336.05" cy="443.90" r="1.55" fill="#0000ff"/><circle cx="340.30" cy="452.60" r="1.55" fill="#0000ff"/><circle cx="344.55" cy="446.80" r="1.55" fill="#0000ff"/><circle cx="348.80" cy="415.00" r="1.55" fill="#0000ff"/><circle cx="353.05" cy="389.40" r="1.55" fill="#0000ff"/><circle cx="357.30" cy="393.40" r="1.55" fill="#0000ff"/><circle cx="361.55" cy="428.90" r="1.55" fill="#0000ff"/><circle cx="365.80" cy="449.00" r="1.55" fill="#0000ff"/><circle cx="370.05" cy="438.00" r="1.55" fill="#0000ff"/><circle cx="374.30" cy="445.00" r="1.55" fill="#0000ff"/><path d="M34.30,444.70 L38.55,451.70 L42.80,455.80 L47.05,453.20 L51.30,453.40 L55.55,458.10 L59.80,455.20 L64.05,453.70 L68.30,452.50 L72.55,457.50 L76.80,460.80 L81.05,455.20 L85.30,452.30 L89.55,456.30 L93.80,456.00 L98.05,455.80 L102.30,457.50 L106.55,460.40 L110.80,463.60 L115.05,458.70 L119.30,453.40 L123.55,452.30 L127.80,454.30 L132.05,454.60 L136.30,448.60 L140.55,447.00 L144.80,447.00 L149.05,432.40 L153.30,397.50 L157.55,388.80 L161.80,388.20 L166.05,395.20 L170.30,421.30 L174.55,435.90 L178.80,433.60 L183.05,426.10 L187.30,423.20 L191.55,424.50 L195.80,431.50 L200.05,437.90 L204.30,440.50 L208.55,440.80 L212.80,441.40 L217.05,443.70 L221.30,444.90 L225.55,447.90 L229.80,450.20 L234.05,452.00 L238.30,454.90 L242.55,456.60 L246.80,442.70 L251.05,424.00 L255.30,419.80 L259.55,419.80 L263.80,429.70 L268.05,447.20 L272.30,453.20 L276.55,450.80 L280.80,429.70 L285.05,400.10 L289.30,392.90 L293.55,392.90 L297.80,400.80 L302.05,432.20 L306.30,454.80 L310.55,451.70 L314.80,452.50 L319.05,455.20 L323.30,455.30 L327.55,451.00 L331.80,447.00 L336.05,446.80 L340.30,447.40 L344.55,426.50 L348.80,401.00 L353.05,395.20 L357.30,395.50 L361.55,403.90 L365.80,435.80 L370.05,442.70 L374.30,445.00" fill="none" stroke="#ffa500" stroke-width="0.8" stroke-dasharray="2.6,1.1"/><path d="M32.75,443.15H35.85L34.30,446.25Z" fill="#ffa500"/><path d="M37.00,450.15H40.10L38.55,453.25Z" fill="#ffa500"/><path d="M41.25,454.25H44.35L42.80,457.35Z" fill="#ffa500"/><path d="M45.50,451.65H48.60L47.05,454.75Z" fill="#ffa500"/><path d="M49.75,451.85H52.85L51.30,454.95Z" fill="#ffa500"/><path d="M54.00,456.55H57.10L55.55,459.65Z" fill="#ffa500"/><path d="M58.25,453.65H61.35L59.80,456.75Z" fill="#ffa500"/><path d="M62.50,452.15H65.60L64.05,455.25Z" fill="#ffa500"/><path d="M66.75,450.95H69.85L68.30,454.05Z" fill="#ffa500"/><path d="M71.00,455.95H74.10L72.55,459.05Z" fill="#ffa500"/><path d="M75.25,459.25H78.35L76.80,462.35Z" fill="#ffa500"/><path d="M79.50,453.65H82.60L81.05,456.75Z" fill="#ffa500"/><path d="M83.75,450.75H86.85L85.30,453.85Z" fill="#ffa500"/><path d="M88.00,454.75H91.10L89.55,457.85Z" fill="#ffa500"/><path d="M92.25,454.45H95.35L93.80,457.55Z" fill="#ffa500"/><path d="M96.50,454.25H99.60L98.05,457.35Z" fill="#ffa500"/><path d="M100.75,455.95H103.85L102.30,459.05Z" fill="#ffa500"/><path d="M105.00,458.85H108.10L106.55,461.95Z" fill="#ffa500"/><path d="M109.25,462.05H112.35L110.80,465.15Z" fill="#ffa500"/><path d="M113.50,457.15H116.60L115.05,460.25Z" fill="#ffa500"/><path d="M117.75,451.85H120.85L119.30,454.95Z" fill="#ffa500"/><path d="M122.00,450.75H125.10L123.55,453.85Z" fill="#ffa500"/><path d="M126.25,452.75H129.35L127.80,455.85Z" fill="#ffa500"/><path d="M130.50,453.05H133.60L132.05,456.15Z" fill="#ffa500"/><path d="M134.75,447.05H137.85L136.30,450.15Z" fill="#ffa500"/><path d="M139.00,445.45H142.10L140.55,448.55Z" fill="#ffa500"/><path d="M143.25,445.45H146.35L144.80,448.55Z" fill="#ffa500"/><path d="M147.50,430.85H150.60L149.05,433.95Z" fill="#ffa500"/><path d="M151.75,395.95H154.85L153.30,399.05Z" fill="#ffa500"/><path d="M156.00,387.25H159.10L157.55,390.35Z" fill="#ffa500"/><path d="M160.25,386.65H163.35L161.80,389.75Z" fill="#ffa500"/><path d="M164.50,393.65H167.60L166.05,396.75Z" fill="#ffa500"/><path d="M168.75,419.75H171.85L170.30,422.85Z" fill="#ffa500"/><path d="M173.00,434.35H176.10L174.55,437.45Z" fill="#ffa500"/><path d="M177.25,432.05H180.35L178.80,435.15Z" fill="#ffa500"/><path d="M181.50,424.55H184.60L183.05,427.65Z" fill="#ffa500"/><path d="M185.75,421.65H188.85L187.30,424.75Z" fill="#ffa500"/><path d="M190.00,422.95H193.10L191.55,426.05Z" fill="#ffa500"/><path d="M194.25,429.95H197.35L195.80,433.05Z" fill="#ffa500"/><path d="M198.50,436.35H201.60L200.05,439.45Z" fill="#ffa500"/><path d="M202.75,438.95H205.85L204.30,442.05Z" fill="#ffa500"/><path d="M207.00,439.25H210.10L208.55,442.35Z" fill="#ffa500"/><path d="M211.25,439.85H214.35L212.80,442.95Z" fill="#ffa500"/><path d="M215.50,442.15H218.60L217.05,445.25Z" fill="#ffa500"/><path d="M219.75,443.35H222.85L221.30,446.45Z" fill="#ffa500"/><path d="M224.00,446.35H227.10L225.55,449.45Z" fill="#ffa500"/><path d="M228.25,448.65H231.35L229.80,451.75Z" fill="#ffa500"/><path d="M232.50,450.45H235.60L234.05,453.55Z" fill="#ffa500"/><path d="M236.75,453.35H239.85L238.30,456.45Z" fill="#ffa500"/><path d="M241.00,455.05H244.10L242.55,458.15Z" fill="#ffa500"/><path d="M245.25,441.15H248.35L246.80,444.25Z" fill="#ffa500"/><path d="M249.50,422.45H252.60L251.05,425.55Z" fill="#ffa500"/><path d="M253.75,418.25H256.85L255.30,421.35Z" fill="#ffa500"/><path d="M258.00,418.25H261.10L259.55,421.35Z" fill="#ffa500"/><path d="M262.25,428.15H265.35L263.80,431.25Z" fill="#ffa500"/><path d="M266.50,445.65H269.60L268.05,448.75Z" fill="#ffa500"/><path d="M270.75,451.65H273.85L272.30,454.75Z" fill="#ffa500"/><path d="M275.00,449.25H278.10L276.55,452.35Z" fill="#ffa500"/><path d="M279.25,428.15H282.35L280.80,431.25Z" fill="#ffa500"/><path d="M283.50,398.55H286.60L285.05,401.65Z" fill="#ffa500"/><path d="M287.75,391.35H290.85L289.30,394.45Z" fill="#ffa500"/><path d="M292.00,391.35H295.10L293.55,394.45Z" fill="#ffa500"/><path d="M296.25,399.25H299.35L297.80,402.35Z" fill="#ffa500"/><path d="M300.50,430.65H303.60L302.05,433.75Z" fill="#ffa500"/><path d="M304.75,453.25H307.85L306.30,456.35Z" fill="#ffa500"/><path d="M309.00,450.15H312.10L310.55,453.25Z" fill="#ffa500"/><path d="M313.25,450.95H316.35L314.80,454.05Z" fill="#ffa500"/><path d="M317.50,453.65H320.60L319.05,456.75Z" fill="#ffa500"/><path d="M321.75,453.75H324.85L323.30,456.85Z" fill="#ffa500"/><path d="M326.00,449.45H329.10L327.55,452.55Z" fill="#ffa500"/><path d="M330.25,445.45H333.35L331.80,448.55Z" fill="#ffa500"/><path d="M334.50,445.25H337.60L336.05,448.35Z" fill="#ffa500"/><path d="M338.75,445.85H341.85L340.30,448.95Z" fill="#ffa500"/><path d="M343.00,424.95H346.10L344.55,428.05Z" fill="#ffa500"/><path d="M347.25,399.45H350.35L348.80,402.55Z" fill="#ffa500"/><path d="M351.50,393.65H354.60L353.05,396.75Z" fill="#ffa500"/><path d="M355.75,393.95H358.85L357.30,397.05Z" fill="#ffa500"/><path d="M360.00,402.35H363.10L361.55,405.45Z" fill="#ffa500"/><path d="M364.25,434.25H367.35L365.80,437.35Z" fill="#ffa500"/><path d="M368.50,441.15H371.60L370.05,444.25Z" fill="#ffa500"/><path d="M372.75,443.45H375.85L374.30,446.55Z" fill="#ffa500"/><path d="M34.30,457.30 L38.55,487.70 L42.80,466.50 L47.05,468.00 L51.30,473.20 L55.55,464.50 L59.80,492.40 L64.05,464.50 L68.30,462.70 L72.55,473.20 L76.80,499.40 L81.05,467.40 L85.30,462.70 L89.55,471.50 L93.80,487.20 L98.05,463.00 L102.30,475.00 L106.55,476.10 L110.80,479.60 L115.05,483.70 L119.30,459.80 L123.55,473.20 L127.80,470.90 L132.05,461.30 L136.30,475.00 L140.55,458.10 L144.80,459.80 L149.05,477.90 L153.30,447.00 L157.55,412.60 L161.80,410.50 L166.05,435.30 L170.30,450.50 L174.55,451.00 L178.80,450.90 L183.05,444.50 L187.30,432.80 L191.55,439.00 L195.80,450.70 L200.05,453.30 L204.30,454.40 L208.55,454.80 L212.80,460.00 L217.05,456.50 L221.30,462.50 L225.55,461.90 L229.80,461.90 L234.05,470.00 L238.30,470.20 L242.55,471.20 L246.80,474.70 L251.05,446.10 L255.30,425.70 L259.55,429.70 L263.80,456.40 L268.05,469.70 L272.30,464.50 L276.55,473.80 L280.80,459.80 L285.05,429.60 L289.30,399.30 L293.55,400.20 L297.80,431.10 L302.05,484.50 L306.30,468.80 L310.55,462.40 L314.80,466.40 L319.05,474.00 L323.30,472.00 L327.55,467.40 L331.80,460.80 L336.05,458.40 L340.30,468.30 L344.55,460.80 L348.80,426.00 L353.05,400.40 L357.30,403.90 L361.55,440.20 L365.80,463.00 L370.05,451.40 L374.30,458.40" fill="none" stroke="#008000" stroke-width="0.8" stroke-dasharray="2.6,1.1"/><path d="M32.75,458.85H35.85L34.30,455.75Z" fill="#008000"/><path d="M37.00,489.25H40.10L38.55,486.15Z" fill="#008000"/><path d="M41.25,468.05H44.35L42.80,464.95Z" fill="#008000"/><path d="M45.50,469.55H48.60L47.05,466.45Z" fill="#008000"/><path d="M49.75,474.75H52.85L51.30,471.65Z" fill="#008000"/><path d="M54.00,466.05H57.10L55.55,462.95Z" fill="#008000"/><path d="M58.25,493.95H61.35L59.80,490.85Z" fill="#008000"/><path d="M62.50,466.05H65.60L64.05,462.95Z" fill="#008000"/><path d="M66.75,464.25H69.85L68.30,461.15Z" fill="#008000"/><path d="M71.00,474.75H74.10L72.55,471.65Z" fill="#008000"/><path d="M75.25,500.95H78.35L76.80,497.85Z" fill="#008000"/><path d="M79.50,468.95H82.60L81.05,465.85Z" fill="#008000"/><path d="M83.75,464.25H86.85L85.30,461.15Z" fill="#008000"/><path d="M88.00,473.05H91.10L89.55,469.95Z" fill="#008000"/><path d="M92.25,488.75H95.35L93.80,485.65Z" fill="#008000"/><path d="M96.50,464.55H99.60L98.05,461.45Z" fill="#008000"/><path d="M100.75,476.55H103.85L102.30,473.45Z" fill="#008000"/><path d="M105.00,477.65H108.10L106.55,474.55Z" fill="#008000"/><path d="M109.25,481.15H112.35L110.80,478.05Z" fill="#008000"/><path d="M113.50,485.25H116.60L115.05,482.15Z" fill="#008000"/><path d="M117.75,461.35H120.85L119.30,458.25Z" fill="#008000"/><path d="M122.00,474.75H125.10L123.55,471.65Z" fill="#008000"/><path d="M126.25,472.45H129.35L127.80,469.35Z" fill="#008000"/><path d="M130.50,462.85H133.60L132.05,459.75Z" fill="#008000"/><path d="M134.75,476.55H137.85L136.30,473.45Z" fill="#008000"/><path d="M139.00,459.65H142.10L140.55,456.55Z" fill="#008000"/><path d="M143.25,461.35H146.35L144.80,458.25Z" fill="#008000"/><path d="M147.50,479.45H150.60L149.05,476.35Z" fill="#008000"/><path d="M151.75,448.55H154.85L153.30,445.45Z" fill="#008000"/><path d="M156.00,414.15H159.10L157.55,411.05Z" fill="#008000"/><path d="M160.25,412.05H163.35L161.80,408.95Z" fill="#008000"/><path d="M164.50,436.85H167.60L166.05,433.75Z" fill="#008000"/><path d="M168.75,452.05H171.85L170.30,448.95Z" fill="#008000"/><path d="M173.00,452.55H176.10L174.55,449.45Z" fill="#008000"/><path d="M177.25,452.45H180.35L178.80,449.35Z" fill="#008000"/><path d="M181.50,446.05H184.60L183.05,442.95Z" fill="#008000"/><path d="M185.75,434.35H188.85L187.30,431.25Z" fill="#008000"/><path d="M190.00,440.55H193.10L191.55,437.45Z" fill="#008000"/><path d="M194.25,452.25H197.35L195.80,449.15Z" fill="#008000"/><path d="M198.50,454.85H201.60L200.05,451.75Z" fill="#008000"/><path d="M202.75,455.95H205.85L204.30,452.85Z" fill="#008000"/><path d="M207.00,456.35H210.10L208.55,453.25Z" fill="#008000"/><path d="M211.25,461.55H214.35L212.80,458.45Z" fill="#008000"/><path d="M215.50,458.05H218.60L217.05,454.95Z" fill="#008000"/><path d="M219.75,464.05H222.85L221.30,460.95Z" fill="#008000"/><path d="M224.00,463.45H227.10L225.55,460.35Z" fill="#008000"/><path d="M228.25,463.45H231.35L229.80,460.35Z" fill="#008000"/><path d="M232.50,471.55H235.60L234.05,468.45Z" fill="#008000"/><path d="M236.75,471.75H239.85L238.30,468.65Z" fill="#008000"/><path d="M241.00,472.75H244.10L242.55,469.65Z" fill="#008000"/><path d="M245.25,476.25H248.35L246.80,473.15Z" fill="#008000"/><path d="M249.50,447.65H252.60L251.05,444.55Z" fill="#008000"/><path d="M253.75,427.25H256.85L255.30,424.15Z" fill="#008000"/><path d="M258.00,431.25H261.10L259.55,428.15Z" fill="#008000"/><path d="M262.25,457.95H265.35L263.80,454.85Z" fill="#008000"/><path d="M266.50,471.25H269.60L268.05,468.15Z" fill="#008000"/><path d="M270.75,466.05H273.85L272.30,462.95Z" fill="#008000"/><path d="M275.00,475.35H278.10L276.55,472.25Z" fill="#008000"/><path d="M279.25,461.35H282.35L280.80,458.25Z" fill="#008000"/><path d="M283.50,431.15H286.60L285.05,428.05Z" fill="#008000"/><path d="M287.75,400.85H290.85L289.30,397.75Z" fill="#008000"/><path d="M292.00,401.75H295.10L293.55,398.65Z" fill="#008000"/><path d="M296.25,432.65H299.35L297.80,429.55Z" fill="#008000"/><path d="M300.50,486.05H303.60L302.05,482.95Z" fill="#008000"/><path d="M304.75,470.35H307.85L306.30,467.25Z" fill="#008000"/><path d="M309.00,463.95H312.10L310.55,460.85Z" fill="#008000"/><path d="M313.25,467.95H316.35L314.80,464.85Z" fill="#008000"/><path d="M317.50,475.55H320.60L319.05,472.45Z" fill="#008000"/><path d="M321.75,473.55H324.85L323.30,470.45Z" fill="#008000"/><path d="M326.00,468.95H329.10L327.55,465.85Z" fill="#008000"/><path d="M330.25,462.35H333.35L331.80,459.25Z" fill="#008000"/><path d="M334.50,459.95H337.60L336.05,456.85Z" fill="#008000"/><path d="M338.75,469.85H341.85L340.30,466.75Z" fill="#008000"/><path d="M343.00,462.35H346.10L344.55,459.25Z" fill="#008000"/><path d="M347.25,427.55H350.35L348.80,424.45Z" fill="#008000"/><path d="M351.50,401.95H354.60L353.05,398.85Z" fill="#008000"/><path d="M355.75,405.45H358.85L357.30,402.35Z" fill="#008000"/><path d="M360.00,441.75H363.10L361.55,438.65Z" fill="#008000"/><path d="M364.25,464.55H367.35L365.80,461.45Z" fill="#008000"/><path d="M368.50,452.95H371.60L370.05,449.85Z" fill="#008000"/><path d="M372.75,459.95H375.85L374.30,456.85Z" fill="#008000"/><path d="M34.30,457.30 L38.55,464.50 L42.80,470.50 L47.05,468.30 L51.30,467.70 L55.55,472.00 L59.80,468.90 L64.05,467.60 L68.30,465.90 L72.55,470.90 L76.80,473.80 L81.05,468.90 L85.30,466.00 L89.55,470.10 L93.80,469.70 L98.05,470.70 L102.30,469.50 L106.55,476.30 L110.80,479.00 L115.05,469.40 L119.30,467.70 L123.55,466.50 L127.80,467.20 L132.05,467.20 L136.30,462.70 L140.55,462.20 L144.80,462.50 L149.05,455.20 L153.30,424.30 L157.55,416.10 L161.80,415.50 L166.05,420.80 L170.30,443.00 L174.55,450.50 L178.80,447.60 L183.05,440.20 L187.30,437.10 L191.55,438.50 L195.80,446.30 L200.05,453.30 L204.30,454.20 L208.55,455.70 L212.80,456.90 L217.05,459.40 L221.30,460.00 L225.55,461.90 L229.80,464.00 L234.05,466.50 L238.30,470.00 L242.55,471.20 L246.80,456.00 L251.05,435.90 L255.30,430.90 L259.55,432.00 L263.80,441.20 L268.05,461.60 L272.30,468.60 L276.55,464.10 L280.80,440.70 L285.05,410.90 L289.30,403.70 L293.55,403.90 L297.80,412.00 L302.05,443.80 L306.30,468.20 L310.55,465.30 L314.80,466.40 L319.05,470.30 L323.30,470.30 L327.55,465.30 L331.80,461.00 L336.05,461.30 L340.30,461.30 L344.55,437.50 L348.80,412.00 L353.05,406.20 L357.30,406.50 L361.55,417.00 L365.80,448.30 L370.05,456.60 L374.30,458.40" fill="none" stroke="#ff0000" stroke-width="0.8" stroke-dasharray="2.6,1.1"/><rect x="32.87" y="455.87" width="2.85" height="2.85" fill="#ff0000"/><rect x="37.12" y="463.07" width="2.85" height="2.85" fill="#ff0000"/><rect x="41.37" y="469.07" width="2.85" height="2.85" fill="#ff0000"/><rect x="45.62" y="466.87" width="2.85" height="2.85" fill="#ff0000"/><rect x="49.87" y="466.27" width="2.85" height="2.85" fill="#ff0000"/><rect x="54.12" y="470.57" width="2.85" height="2.85" fill="#ff0000"/><rect x="58.37" y="467.47" width="2.85" height="2.85" fill="#ff0000"/><rect x="62.62" y="466.17" width="2.85" height="2.85" fill="#ff0000"/><rect x="66.87" y="464.47" width="2.85" height="2.85" fill="#ff0000"/><rect x="71.12" y="469.47" width="2.85" height="2.85" fill="#ff0000"/><rect x="75.37" y="472.37" width="2.85" height="2.85" fill="#ff0000"/><rect x="79.62" y="467.47" width="2.85" height="2.85" fill="#ff0000"/><rect x="83.87" y="464.57" width="2.85" height="2.85" fill="#ff0000"/><rect x="88.12" y="468.67" width="2.85" height="2.85" fill="#ff0000"/><rect x="92.37" y="468.27" width="2.85" height="2.85" fill="#ff0000"/><rect x="96.62" y="469.27" width="2.85" height="2.85" fill="#ff0000"/><rect x="100.87" y="468.07" width="2.85" height="2.85" fill="#ff0000"/><rect x="105.12" y="474.87" width="2.85" height="2.85" fill="#ff0000"/><rect x="109.37" y="477.57" width="2.85" height="2.85" fill="#ff0000"/><rect x="113.62" y="467.97" width="2.85" height="2.85" fill="#ff0000"/><rect x="117.87" y="466.27" width="2.85" height="2.85" fill="#ff0000"/><rect x="122.12" y="465.07" width="2.85" height="2.85" fill="#ff0000"/><rect x="126.37" y="465.77" width="2.85" height="2.85" fill="#ff0000"/><rect x="130.62" y="465.77" width="2.85" height="2.85" fill="#ff0000"/><rect x="134.87" y="461.27" width="2.85" height="2.85" fill="#ff0000"/><rect x="139.12" y="460.77" width="2.85" height="2.85" fill="#ff0000"/><rect x="143.37" y="461.07" width="2.85" height="2.85" fill="#ff0000"/><rect x="147.62" y="453.77" width="2.85" height="2.85" fill="#ff0000"/><rect x="151.87" y="422.87" width="2.85" height="2.85" fill="#ff0000"/><rect x="156.12" y="414.67" width="2.85" height="2.85" fill="#ff0000"/><rect x="160.37" y="414.07" width="2.85" height="2.85" fill="#ff0000"/><rect x="164.62" y="419.37" width="2.85" height="2.85" fill="#ff0000"/><rect x="168.87" y="441.57" width="2.85" height="2.85" fill="#ff0000"/><rect x="173.12" y="449.07" width="2.85" height="2.85" fill="#ff0000"/><rect x="177.37" y="446.17" width="2.85" height="2.85" fill="#ff0000"/><rect x="181.62" y="438.77" width="2.85" height="2.85" fill="#ff0000"/><rect x="185.87" y="435.67" width="2.85" height="2.85" fill="#ff0000"/><rect x="190.12" y="437.07" width="2.85" height="2.85" fill="#ff0000"/><rect x="194.37" y="444.87" width="2.85" height="2.85" fill="#ff0000"/><rect x="198.62" y="451.87" width="2.85" height="2.85" fill="#ff0000"/><rect x="202.87" y="452.77" width="2.85" height="2.85" fill="#ff0000"/><rect x="207.12" y="454.27" width="2.85" height="2.85" fill="#ff0000"/><rect x="211.37" y="455.47" width="2.85" height="2.85" fill="#ff0000"/><rect x="215.62" y="457.97" width="2.85" height="2.85" fill="#ff0000"/><rect x="219.87" y="458.57" width="2.85" height="2.85" fill="#ff0000"/><rect x="224.12" y="460.47" width="2.85" height="2.85" fill="#ff0000"/><rect x="228.37" y="462.57" width="2.85" height="2.85" fill="#ff0000"/><rect x="232.62" y="465.07" width="2.85" height="2.85" fill="#ff0000"/><rect x="236.87" y="468.57" width="2.85" height="2.85" fill="#ff0000"/><rect x="241.12" y="469.77" width="2.85" height="2.85" fill="#ff0000"/><rect x="245.37" y="454.57" width="2.85" height="2.85" fill="#ff0000"/><rect x="249.62" y="434.47" width="2.85" height="2.85" fill="#ff0000"/><rect x="253.87" y="429.47" width="2.85" height="2.85" fill="#ff0000"/><rect x="258.12" y="430.57" width="2.85" height="2.85" fill="#ff0000"/><rect x="262.37" y="439.77" width="2.85" height="2.85" fill="#ff0000"/><rect x="266.62" y="460.17" width="2.85" height="2.85" fill="#ff0000"/><rect x="270.87" y="467.17" width="2.85" height="2.85" fill="#ff0000"/><rect x="275.12" y="462.67" width="2.85" height="2.85" fill="#ff0000"/><rect x="279.37" y="439.27" width="2.85" height="2.85" fill="#ff0000"/><rect x="283.62" y="409.47" width="2.85" height="2.85" fill="#ff0000"/><rect x="287.87" y="402.27" width="2.85" height="2.85" fill="#ff0000"/><rect x="292.12" y="402.47" width="2.85" height="2.85" fill="#ff0000"/><rect x="296.37" y="410.57" width="2.85" height="2.85" fill="#ff0000"/><rect x="300.62" y="442.37" width="2.85" height="2.85" fill="#ff0000"/><rect x="304.87" y="466.77" width="2.85" height="2.85" fill="#ff0000"/><rect x="309.12" y="463.87" width="2.85" height="2.85" fill="#ff0000"/><rect x="313.37" y="464.97" width="2.85" height="2.85" fill="#ff0000"/><rect x="317.62" y="468.87" width="2.85" height="2.85" fill="#ff0000"/><rect x="321.87" y="468.87" width="2.85" height="2.85" fill="#ff0000"/><rect x="326.12" y="463.87" width="2.85" height="2.85" fill="#ff0000"/><rect x="330.37" y="459.57" width="2.85" height="2.85" fill="#ff0000"/><rect x="334.62" y="459.87" width="2.85" height="2.85" fill="#ff0000"/><rect x="338.87" y="459.87" width="2.85" height="2.85" fill="#ff0000"/><rect x="343.12" y="436.07" width="2.85" height="2.85" fill="#ff0000"/><rect x="347.37" y="410.57" width="2.85" height="2.85" fill="#ff0000"/><rect x="351.62" y="404.77" width="2.85" height="2.85" fill="#ff0000"/><rect x="355.87" y="405.07" width="2.85" height="2.85" fill="#ff0000"/><rect x="360.12" y="415.57" width="2.85" height="2.85" fill="#ff0000"/><rect x="364.37" y="446.87" width="2.85" height="2.85" fill="#ff0000"/><rect x="368.62" y="455.17" width="2.85" height="2.85" fill="#ff0000"/><rect x="372.87" y="456.97" width="2.85" height="2.85" fill="#ff0000"/><line x1="34.30" y1="454.2" x2="374.30" y2="454.2" stroke="#000" stroke-opacity="0.66" stroke-width="1.3"/></g>
<rect x="25.4" y="378.3" width="358.00" height="127.20" fill="none" stroke="#3a3a3a" stroke-width="0.7"/>
<line x1="23.5" y1="499.00" x2="25.4" y2="499.00" stroke="#3a3a3a" stroke-width="0.5"/>
<text x="22.20" y="500.90" font-size="5.5" text-anchor="end">10<tspan font-size="3.6" dy="-2.1">0</tspan></text>
<line x1="23.5" y1="471.70" x2="25.4" y2="471.70" stroke="#3a3a3a" stroke-width="0.5"/>
<text x="22.20" y="473.60" font-size="5.5" text-anchor="end">10<tspan font-size="3.6" dy="-2.1">1</tspan></text>
<line x1="23.5" y1="444.40" x2="25.4" y2="444.40" stroke="#3a3a3a" stroke-width="0.5"/>
<text x="22.20" y="446.30" font-size="5.5" text-anchor="end">10<tspan font-size="3.6" dy="-2.1">2</tspan></text>
<line x1="23.5" y1="417.10" x2="25.4" y2="417.10" stroke="#3a3a3a" stroke-width="0.5"/>
<text x="22.20" y="419.00" font-size="5.5" text-anchor="end">10<tspan font-size="3.6" dy="-2.1">3</tspan></text>
<line x1="23.5" y1="389.80" x2="25.4" y2="389.80" stroke="#3a3a3a" stroke-width="0.5"/>
<text x="22.20" y="391.70" font-size="5.5" text-anchor="end">10<tspan font-size="3.6" dy="-2.1">4</tspan></text>
<line x1="24.299999999999997" y1="505.06" x2="25.4" y2="505.06" stroke="#3a3a3a" stroke-width="0.35"/>
<line x1="24.299999999999997" y1="503.23" x2="25.4" y2="503.23" stroke="#3a3a3a" stroke-width="0.35"/>
<line x1="24.299999999999997" y1="501.65" x2="25.4" y2="501.65" stroke="#3a3a3a" stroke-width="0.35"/>
<line x1="24.299999999999997" y1="500.25" x2="25.4" y2="500.25" stroke="#3a3a3a" stroke-width="0.35"/>
<line x1="24.299999999999997" y1="490.78" x2="25.4" y2="490.78" stroke="#3a3a3a" stroke-width="0.35"/>
<line x1="24.299999999999997" y1="485.97" x2="25.4" y2="485.97" stroke="#3a3a3a" stroke-width="0.35"/>
<line x1="24.299999999999997" y1="482.56" x2="25.4" y2="482.56" stroke="#3a3a3a" stroke-width="0.35"/>
<line x1="24.299999999999997" y1="479.92" x2="25.4" y2="479.92" stroke="#3a3a3a" stroke-width="0.35"/>
<line x1="24.299999999999997" y1="477.76" x2="25.4" y2="477.76" stroke="#3a3a3a" stroke-width="0.35"/>
<line x1="24.299999999999997" y1="475.93" x2="25.4" y2="475.93" stroke="#3a3a3a" stroke-width="0.35"/>
<line x1="24.299999999999997" y1="474.35" x2="25.4" y2="474.35" stroke="#3a3a3a" stroke-width="0.35"/>
<line x1="24.299999999999997" y1="472.95" x2="25.4" y2="472.95" stroke="#3a3a3a" stroke-width="0.35"/>
<line x1="24.299999999999997" y1="463.48" x2="25.4" y2="463.48" stroke="#3a3a3a" stroke-width="0.35"/>
<line x1="24.299999999999997" y1="458.67" x2="25.4" y2="458.67" stroke="#3a3a3a" stroke-width="0.35"/>
<line x1="24.299999999999997" y1="455.26" x2="25.4" y2="455.26" stroke="#3a3a3a" stroke-width="0.35"/>
<line x1="24.299999999999997" y1="452.62" x2="25.4" y2="452.62" stroke="#3a3a3a" stroke-width="0.35"/>
<line x1="24.299999999999997" y1="450.46" x2="25.4" y2="450.46" stroke="#3a3a3a" stroke-width="0.35"/>
<line x1="24.299999999999997" y1="448.63" x2="25.4" y2="448.63" stroke="#3a3a3a" stroke-width="0.35"/>
<line x1="24.299999999999997" y1="447.05" x2="25.4" y2="447.05" stroke="#3a3a3a" stroke-width="0.35"/>
<line x1="24.299999999999997" y1="445.65" x2="25.4" y2="445.65" stroke="#3a3a3a" stroke-width="0.35"/>
<line x1="24.299999999999997" y1="436.18" x2="25.4" y2="436.18" stroke="#3a3a3a" stroke-width="0.35"/>
<line x1="24.299999999999997" y1="431.37" x2="25.4" y2="431.37" stroke="#3a3a3a" stroke-width="0.35"/>
<line x1="24.299999999999997" y1="427.96" x2="25.4" y2="427.96" stroke="#3a3a3a" stroke-width="0.35"/>
<line x1="24.299999999999997" y1="425.32" x2="25.4" y2="425.32" stroke="#3a3a3a" stroke-width="0.35"/>
<line x1="24.299999999999997" y1="423.16" x2="25.4" y2="423.16" stroke="#3a3a3a" stroke-width="0.35"/>
<line x1="24.299999999999997" y1="421.33" x2="25.4" y2="421.33" stroke="#3a3a3a" stroke-width="0.35"/>
<line x1="24.299999999999997" y1="419.75" x2="25.4" y2="419.75" stroke="#3a3a3a" stroke-width="0.35"/>
<line x1="24.299999999999997" y1="418.35" x2="25.4" y2="418.35" stroke="#3a3a3a" stroke-width="0.35"/>
<line x1="24.299999999999997" y1="408.88" x2="25.4" y2="408.88" stroke="#3a3a3a" stroke-width="0.35"/>
<line x1="24.299999999999997" y1="404.07" x2="25.4" y2="404.07" stroke="#3a3a3a" stroke-width="0.35"/>
<line x1="24.299999999999997" y1="400.66" x2="25.4" y2="400.66" stroke="#3a3a3a" stroke-width="0.35"/>
<line x1="24.299999999999997" y1="398.02" x2="25.4" y2="398.02" stroke="#3a3a3a" stroke-width="0.35"/>
<line x1="24.299999999999997" y1="395.86" x2="25.4" y2="395.86" stroke="#3a3a3a" stroke-width="0.35"/>
<line x1="24.299999999999997" y1="394.03" x2="25.4" y2="394.03" stroke="#3a3a3a" stroke-width="0.35"/>
<line x1="24.299999999999997" y1="392.45" x2="25.4" y2="392.45" stroke="#3a3a3a" stroke-width="0.35"/>
<line x1="24.299999999999997" y1="391.05" x2="25.4" y2="391.05" stroke="#3a3a3a" stroke-width="0.35"/>
<line x1="24.299999999999997" y1="381.58" x2="25.4" y2="381.58" stroke="#3a3a3a" stroke-width="0.35"/>
<line x1="25.40" y1="505.5" x2="25.40" y2="507.4" stroke="#3a3a3a" stroke-width="0.5"/>
<text x="25.40" y="514.20" font-size="5.5" text-anchor="middle" >0</text>
<line x1="67.00" y1="505.5" x2="67.00" y2="507.4" stroke="#3a3a3a" stroke-width="0.5"/>
<text x="67.00" y="514.20" font-size="5.5" text-anchor="middle" >10,000</text>
<line x1="108.60" y1="505.5" x2="108.60" y2="507.4" stroke="#3a3a3a" stroke-width="0.5"/>
<text x="108.60" y="514.20" font-size="5.5" text-anchor="middle" >20,000</text>
<line x1="150.20" y1="505.5" x2="150.20" y2="507.4" stroke="#3a3a3a" stroke-width="0.5"/>
<text x="150.20" y="514.20" font-size="5.5" text-anchor="middle" >30,000</text>
<line x1="191.80" y1="505.5" x2="191.80" y2="507.4" stroke="#3a3a3a" stroke-width="0.5"/>
<text x="191.80" y="514.20" font-size="5.5" text-anchor="middle" >40,000</text>
<line x1="233.40" y1="505.5" x2="233.40" y2="507.4" stroke="#3a3a3a" stroke-width="0.5"/>
<text x="233.40" y="514.20" font-size="5.5" text-anchor="middle" >50,000</text>
<line x1="275.00" y1="505.5" x2="275.00" y2="507.4" stroke="#3a3a3a" stroke-width="0.5"/>
<text x="275.00" y="514.20" font-size="5.5" text-anchor="middle" >60,000</text>
<line x1="316.60" y1="505.5" x2="316.60" y2="507.4" stroke="#3a3a3a" stroke-width="0.5"/>
<text x="316.60" y="514.20" font-size="5.5" text-anchor="middle" >70,000</text>
<line x1="358.20" y1="505.5" x2="358.20" y2="507.4" stroke="#3a3a3a" stroke-width="0.5"/>
<text x="358.20" y="514.20" font-size="5.5" text-anchor="middle" >80,000</text>
<text x="204.40" y="521.40" font-size="5.5" text-anchor="middle" >Samples</text>
<text transform="translate(9.8,441.9) rotate(-90)" font-size="5.5" text-anchor="middle">PSD [dB/Hz]</text>
<rect x="27.2" y="380.0" width="61.8" height="42" rx="1" ry="1" fill="#fff" fill-opacity="0.8" stroke="#ccc" stroke-width="0.5"/>
<line x1="29.4" y1="384.5" x2="42" y2="384.5" stroke="#0000ff" stroke-width="0.8" stroke-dasharray="2.6,1.1"/>
<circle cx="35.70" cy="384.50" r="1.55" fill="#0000ff"/>
<text x="46.00" y="386.35" font-size="5.5" text-anchor="start" >>0.5π raw</text>
<line x1="29.4" y1="393.0" x2="42" y2="393.0" stroke="#ffa500" stroke-width="0.8" stroke-dasharray="2.6,1.1"/>
<path d="M34.15,391.45H37.25L35.70,394.55Z" fill="#ffa500"/>
<text x="46.00" y="394.85" font-size="5.5" text-anchor="start" >>0.5π smooth</text>
<line x1="29.4" y1="400.9" x2="42" y2="400.9" stroke="#008000" stroke-width="0.8" stroke-dasharray="2.6,1.1"/>
<path d="M34.15,402.45H37.25L35.70,399.35Z" fill="#008000"/>
<text x="46.00" y="402.75" font-size="5.5" text-anchor="start" >>0.75π raw</text>
<line x1="29.4" y1="409.0" x2="42" y2="409.0" stroke="#ff0000" stroke-width="0.8" stroke-dasharray="2.6,1.1"/>
<rect x="34.27" y="407.57" width="2.85" height="2.85" fill="#ff0000"/>
<text x="46.00" y="410.85" font-size="5.5" text-anchor="start" >>0.75π smooth</text>
<line x1="29.4" y1="416.8" x2="42" y2="416.8" stroke="#000" stroke-opacity="0.66" stroke-width="1.3"/>
<text x="46.00" y="418.65" font-size="5.5" text-anchor="start" >Threshold</text>
<text x="155.30" y="169.8" font-size="10" textLength="80" lengthAdjust="spacingAndGlyphs" style="stroke:none" font-family="'Liberation Serif', serif" fill="#1c1c1c">(<tspan font-weight="bold">a</tspan>) Original profile</text>
<text x="160.55" y="355.6" font-size="10" textLength="69.5" lengthAdjust="spacingAndGlyphs" style="stroke:none" font-family="'Liberation Serif', serif" fill="#1c1c1c">(<tspan font-weight="bold">b</tspan>) Spectrogram</text>
<text x="179.00" y="542.7" font-size="10" textLength="32.6" lengthAdjust="spacingAndGlyphs" style="stroke:none" font-family="'Liberation Serif', serif" fill="#1c1c1c">(<tspan font-weight="bold">c</tspan>) PSD</text>
</svg>
</body></html>
